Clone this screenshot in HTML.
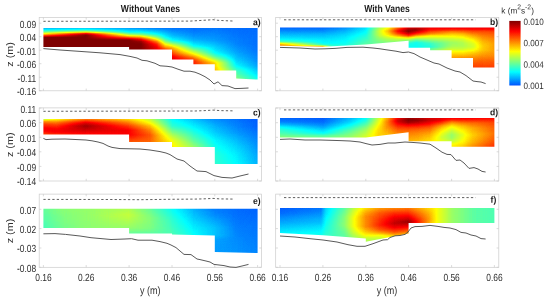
<!DOCTYPE html>
<html lang="en"><head><meta charset="utf-8"><title>Turbulent kinetic energy: without vanes vs with vanes</title>
<style>
html,body{margin:0;padding:0;background:#fff;}
body{width:550px;height:300px;overflow:hidden;}
svg{display:block;font-family:"Liberation Sans",Arial,Helvetica,sans-serif;}
</style></head><body>
<svg width="550" height="300" viewBox="0 0 550 300">
<defs>
<filter id="jet" filterUnits="userSpaceOnUse" x="0" y="0" width="550" height="300" color-interpolation-filters="sRGB"><feComponentTransfer><feFuncR type="table" tableValues="0 0 0 0 0.5 1 1 1 0.5"/><feFuncG type="table" tableValues="0 0 0.5 1 1 1 0.5 0 0"/><feFuncB type="table" tableValues="0.5 1 1 1 0.5 0 0 0 0"/></feComponentTransfer></filter>
<clipPath id="c1"><polygon points="43.4,28 257.6,28 257.6,79.6 236.2,78.6 236.2,70.5 214.8,70.5 214.8,64.3 193.4,64.3 193.4,59.6 172,59.6 172,49.4 129.1,49.4 129.1,47 43.4,47"/></clipPath>
<linearGradient id="v2" gradientUnits="userSpaceOnUse" x1="0" y1="28" x2="0" y2="80.6"><stop offset="0" stop-color="#4d4d4d"/><stop offset="0.038" stop-color="#606060"/><stop offset="0.076" stop-color="#7f7f7f"/><stop offset="0.106" stop-color="#9e9e9e"/><stop offset="0.133" stop-color="#bfbfbf"/><stop offset="0.152" stop-color="#e0e0e0"/><stop offset="0.181" stop-color="#ffffff"/><stop offset="0.361" stop-color="#ffffff"/></linearGradient>
<linearGradient id="v3" gradientUnits="userSpaceOnUse" x1="0" y1="28" x2="0" y2="80.6"><stop offset="0" stop-color="#515151"/><stop offset="0.027" stop-color="#606060"/><stop offset="0.057" stop-color="#7f7f7f"/><stop offset="0.076" stop-color="#9e9e9e"/><stop offset="0.095" stop-color="#c5c5c5"/><stop offset="0.106" stop-color="#e0e0e0"/><stop offset="0.133" stop-color="#ffffff"/><stop offset="0.361" stop-color="#ffffff"/></linearGradient>
<linearGradient id="v4" gradientUnits="userSpaceOnUse" x1="0" y1="28" x2="0" y2="80.6"><stop offset="0" stop-color="#474747"/><stop offset="0.076" stop-color="#606060"/><stop offset="0.114" stop-color="#7f7f7f"/><stop offset="0.144" stop-color="#9e9e9e"/><stop offset="0.171" stop-color="#bfbfbf"/><stop offset="0.198" stop-color="#e0e0e0"/><stop offset="0.228" stop-color="#ffffff"/><stop offset="0.407" stop-color="#ffffff"/></linearGradient>
<linearGradient id="v5" gradientUnits="userSpaceOnUse" x1="0" y1="28" x2="0" y2="80.6"><stop offset="0" stop-color="#434343"/><stop offset="0.076" stop-color="#606060"/><stop offset="0.124" stop-color="#7f7f7f"/><stop offset="0.152" stop-color="#9e9e9e"/><stop offset="0.183" stop-color="#bfbfbf"/><stop offset="0.215" stop-color="#e0e0e0"/><stop offset="0.259" stop-color="#f9f9f9"/><stop offset="0.304" stop-color="#ffffff"/><stop offset="0.407" stop-color="#ffffff"/></linearGradient>
<linearGradient id="v6" gradientUnits="userSpaceOnUse" x1="0" y1="28" x2="0" y2="80.6"><stop offset="0" stop-color="#3f3f3f"/><stop offset="0.114" stop-color="#606060"/><stop offset="0.171" stop-color="#7f7f7f"/><stop offset="0.215" stop-color="#9e9e9e"/><stop offset="0.255" stop-color="#bdbdbd"/><stop offset="0.304" stop-color="#d6d6d6"/><stop offset="0.361" stop-color="#e2e2e2"/><stop offset="0.407" stop-color="#e4e4e4"/></linearGradient>
<linearGradient id="v7" gradientUnits="userSpaceOnUse" x1="0" y1="28" x2="0" y2="80.6"><stop offset="0" stop-color="#3d3d3d"/><stop offset="0.095" stop-color="#515151"/><stop offset="0.171" stop-color="#606060"/><stop offset="0.247" stop-color="#7f7f7f"/><stop offset="0.304" stop-color="#9e9e9e"/><stop offset="0.369" stop-color="#bdbdbd"/><stop offset="0.407" stop-color="#d0d0d0"/></linearGradient>
<linearGradient id="v8" gradientUnits="userSpaceOnUse" x1="0" y1="28" x2="0" y2="80.6"><stop offset="0" stop-color="#3d3d3d"/><stop offset="0.095" stop-color="#494949"/><stop offset="0.152" stop-color="#515151"/><stop offset="0.228" stop-color="#606060"/><stop offset="0.285" stop-color="#7f7f7f"/><stop offset="0.335" stop-color="#9e9e9e"/><stop offset="0.38" stop-color="#b5b5b5"/><stop offset="0.418" stop-color="#bfbfbf"/><stop offset="0.479" stop-color="#cfcfcf"/><stop offset="0.536" stop-color="#e0e0e0"/><stop offset="0.601" stop-color="#e8e8e8"/></linearGradient>
<linearGradient id="v9" gradientUnits="userSpaceOnUse" x1="0" y1="28" x2="0" y2="80.6"><stop offset="0" stop-color="#3b3b3b"/><stop offset="0.152" stop-color="#454545"/><stop offset="0.228" stop-color="#4d4d4d"/><stop offset="0.304" stop-color="#5a5a5a"/><stop offset="0.342" stop-color="#626262"/><stop offset="0.399" stop-color="#7b7b7b"/><stop offset="0.466" stop-color="#969696"/><stop offset="0.508" stop-color="#a8a8a8"/><stop offset="0.551" stop-color="#bdbdbd"/><stop offset="0.601" stop-color="#d0d0d0"/><stop offset="0.646" stop-color="#d8d8d8"/><stop offset="0.69" stop-color="#d8d8d8"/></linearGradient>
<linearGradient id="v10" gradientUnits="userSpaceOnUse" x1="0" y1="28" x2="0" y2="80.6"><stop offset="0" stop-color="#3d3d3d"/><stop offset="0.228" stop-color="#474747"/><stop offset="0.342" stop-color="#535353"/><stop offset="0.418" stop-color="#5a5a5a"/><stop offset="0.475" stop-color="#626262"/><stop offset="0.532" stop-color="#727272"/><stop offset="0.58" stop-color="#858585"/><stop offset="0.62" stop-color="#989898"/><stop offset="0.665" stop-color="#aaaaaa"/><stop offset="0.722" stop-color="#aaaaaa"/><stop offset="0.76" stop-color="#aeaeae"/><stop offset="0.808" stop-color="#b1b1b1"/></linearGradient>
<linearGradient id="v11" gradientUnits="userSpaceOnUse" x1="0" y1="28" x2="0" y2="80.6"><stop offset="0" stop-color="#3b3b3b"/><stop offset="0.304" stop-color="#414141"/><stop offset="0.456" stop-color="#494949"/><stop offset="0.57" stop-color="#515151"/><stop offset="0.646" stop-color="#585858"/><stop offset="0.722" stop-color="#606060"/><stop offset="0.798" stop-color="#6e6e6e"/><stop offset="0.875" stop-color="#777777"/><stop offset="0.962" stop-color="#818181"/></linearGradient>
<linearGradient id="v12" gradientUnits="userSpaceOnUse" x1="0" y1="28" x2="0" y2="80.6"><stop offset="0" stop-color="#3b3b3b"/><stop offset="0.418" stop-color="#3d3d3d"/><stop offset="0.608" stop-color="#434343"/><stop offset="0.722" stop-color="#494949"/><stop offset="0.798" stop-color="#515151"/><stop offset="0.875" stop-color="#585858"/><stop offset="0.981" stop-color="#666666"/></linearGradient>
<linearGradient id="h13" gradientUnits="userSpaceOnUse" x1="43.4" y1="0" x2="86.2" y2="0"><stop offset="0" stop-color="#000"/><stop offset="1" stop-color="#fff"/></linearGradient>
<mask id="m14" maskUnits="userSpaceOnUse" x="42.4" y="27" width="45.8" height="54.6"><rect x="42.4" y="27" width="45.8" height="54.6" fill="url(#h13)"/></mask>
<linearGradient id="h15" gradientUnits="userSpaceOnUse" x1="86.2" y1="0" x2="129.1" y2="0"><stop offset="0" stop-color="#000"/><stop offset="1" stop-color="#fff"/></linearGradient>
<mask id="m16" maskUnits="userSpaceOnUse" x="85.2" y="27" width="45.9" height="54.6"><rect x="85.2" y="27" width="45.9" height="54.6" fill="url(#h15)"/></mask>
<linearGradient id="h17" gradientUnits="userSpaceOnUse" x1="129.1" y1="0" x2="141" y2="0"><stop offset="0" stop-color="#000"/><stop offset="1" stop-color="#fff"/></linearGradient>
<mask id="m18" maskUnits="userSpaceOnUse" x="128.1" y="27" width="14.9" height="54.6"><rect x="128.1" y="27" width="14.9" height="54.6" fill="url(#h17)"/></mask>
<linearGradient id="h19" gradientUnits="userSpaceOnUse" x1="141" y1="0" x2="157" y2="0"><stop offset="0" stop-color="#000"/><stop offset="1" stop-color="#fff"/></linearGradient>
<mask id="m20" maskUnits="userSpaceOnUse" x="140" y="27" width="19" height="54.6"><rect x="140" y="27" width="19" height="54.6" fill="url(#h19)"/></mask>
<linearGradient id="h21" gradientUnits="userSpaceOnUse" x1="157" y1="0" x2="165" y2="0"><stop offset="0" stop-color="#000"/><stop offset="1" stop-color="#fff"/></linearGradient>
<mask id="m22" maskUnits="userSpaceOnUse" x="156" y="27" width="11" height="54.6"><rect x="156" y="27" width="11" height="54.6" fill="url(#h21)"/></mask>
<linearGradient id="h23" gradientUnits="userSpaceOnUse" x1="165" y1="0" x2="172" y2="0"><stop offset="0" stop-color="#000"/><stop offset="1" stop-color="#fff"/></linearGradient>
<mask id="m24" maskUnits="userSpaceOnUse" x="164" y="27" width="10" height="54.6"><rect x="164" y="27" width="10" height="54.6" fill="url(#h23)"/></mask>
<linearGradient id="h25" gradientUnits="userSpaceOnUse" x1="172" y1="0" x2="193.4" y2="0"><stop offset="0" stop-color="#000"/><stop offset="1" stop-color="#fff"/></linearGradient>
<mask id="m26" maskUnits="userSpaceOnUse" x="171" y="27" width="24.4" height="54.6"><rect x="171" y="27" width="24.4" height="54.6" fill="url(#h25)"/></mask>
<linearGradient id="h27" gradientUnits="userSpaceOnUse" x1="193.4" y1="0" x2="214.8" y2="0"><stop offset="0" stop-color="#000"/><stop offset="1" stop-color="#fff"/></linearGradient>
<mask id="m28" maskUnits="userSpaceOnUse" x="192.4" y="27" width="24.4" height="54.6"><rect x="192.4" y="27" width="24.4" height="54.6" fill="url(#h27)"/></mask>
<linearGradient id="h29" gradientUnits="userSpaceOnUse" x1="214.8" y1="0" x2="236.2" y2="0"><stop offset="0" stop-color="#000"/><stop offset="1" stop-color="#fff"/></linearGradient>
<mask id="m30" maskUnits="userSpaceOnUse" x="213.8" y="27" width="24.4" height="54.6"><rect x="213.8" y="27" width="24.4" height="54.6" fill="url(#h29)"/></mask>
<linearGradient id="h31" gradientUnits="userSpaceOnUse" x1="236.2" y1="0" x2="257.6" y2="0"><stop offset="0" stop-color="#000"/><stop offset="1" stop-color="#fff"/></linearGradient>
<mask id="m32" maskUnits="userSpaceOnUse" x="235.2" y="27" width="24.4" height="54.6"><rect x="235.2" y="27" width="24.4" height="54.6" fill="url(#h31)"/></mask>
<clipPath id="c33"><polygon points="280,27.5 494.4,27.5 494.4,67.4 473,67.4 473,58 451.6,58 451.6,50.2 430.1,50.2 430.1,47.8 408.6,47.8 408.6,40.8 365.8,44.4 365.8,44.4 322.9,46.8 322.9,46.8 280,45.8"/></clipPath>
<linearGradient id="v34" gradientUnits="userSpaceOnUse" x1="0" y1="27.5" x2="0" y2="68.4"><stop offset="0" stop-color="#393939"/><stop offset="0.086" stop-color="#434343"/><stop offset="0.159" stop-color="#4d4d4d"/><stop offset="0.232" stop-color="#565656"/><stop offset="0.293" stop-color="#606060"/><stop offset="0.342" stop-color="#737373"/><stop offset="0.379" stop-color="#969696"/><stop offset="0.403" stop-color="#b1b1b1"/><stop offset="0.447" stop-color="#bfbfbf"/></linearGradient>
<linearGradient id="v35" gradientUnits="userSpaceOnUse" x1="0" y1="27.5" x2="0" y2="68.4"><stop offset="0" stop-color="#393939"/><stop offset="0.086" stop-color="#434343"/><stop offset="0.159" stop-color="#4d4d4d"/><stop offset="0.232" stop-color="#545454"/><stop offset="0.306" stop-color="#5c5c5c"/><stop offset="0.379" stop-color="#606060"/><stop offset="0.423" stop-color="#6c6c6c"/><stop offset="0.443" stop-color="#8b8b8b"/><stop offset="0.457" stop-color="#aaaaaa"/><stop offset="0.472" stop-color="#b9b9b9"/></linearGradient>
<linearGradient id="v36" gradientUnits="userSpaceOnUse" x1="0" y1="27.5" x2="0" y2="68.4"><stop offset="0" stop-color="#3d3d3d"/><stop offset="0.086" stop-color="#474747"/><stop offset="0.159" stop-color="#4f4f4f"/><stop offset="0.232" stop-color="#565656"/><stop offset="0.306" stop-color="#5c5c5c"/><stop offset="0.379" stop-color="#606060"/><stop offset="0.428" stop-color="#686868"/><stop offset="0.467" stop-color="#737373"/></linearGradient>
<linearGradient id="v37" gradientUnits="userSpaceOnUse" x1="0" y1="27.5" x2="0" y2="68.4"><stop offset="0" stop-color="#434343"/><stop offset="0.086" stop-color="#4d4d4d"/><stop offset="0.159" stop-color="#545454"/><stop offset="0.232" stop-color="#5a5a5a"/><stop offset="0.306" stop-color="#5e5e5e"/><stop offset="0.379" stop-color="#626262"/><stop offset="0.452" stop-color="#686868"/></linearGradient>
<linearGradient id="v38" gradientUnits="userSpaceOnUse" x1="0" y1="27.5" x2="0" y2="68.4"><stop offset="0" stop-color="#585858"/><stop offset="0.134" stop-color="#626262"/><stop offset="0.257" stop-color="#6c6c6c"/><stop offset="0.413" stop-color="#777777"/></linearGradient>
<linearGradient id="v39" gradientUnits="userSpaceOnUse" x1="0" y1="27.5" x2="0" y2="68.4"><stop offset="0" stop-color="#8b8b8b"/><stop offset="0.086" stop-color="#969696"/><stop offset="0.183" stop-color="#929292"/><stop offset="0.281" stop-color="#858585"/><stop offset="0.379" stop-color="#7d7d7d"/></linearGradient>
<linearGradient id="v40" gradientUnits="userSpaceOnUse" x1="0" y1="27.5" x2="0" y2="68.4"><stop offset="0" stop-color="#9e9e9e"/><stop offset="0.086" stop-color="#b1b1b1"/><stop offset="0.171" stop-color="#a6a6a6"/><stop offset="0.257" stop-color="#919191"/><stop offset="0.355" stop-color="#818181"/></linearGradient>
<linearGradient id="v41" gradientUnits="userSpaceOnUse" x1="0" y1="27.5" x2="0" y2="68.4"><stop offset="0" stop-color="#c5c5c5"/><stop offset="0.086" stop-color="#e0e0e0"/><stop offset="0.147" stop-color="#d0d0d0"/><stop offset="0.196" stop-color="#b9b9b9"/><stop offset="0.244" stop-color="#9e9e9e"/><stop offset="0.293" stop-color="#8f8f8f"/><stop offset="0.347" stop-color="#838383"/></linearGradient>
<linearGradient id="v42" gradientUnits="userSpaceOnUse" x1="0" y1="27.5" x2="0" y2="68.4"><stop offset="0" stop-color="#e8e8e8"/><stop offset="0.086" stop-color="#ffffff"/><stop offset="0.147" stop-color="#ececec"/><stop offset="0.196" stop-color="#d4d4d4"/><stop offset="0.225" stop-color="#bdbdbd"/><stop offset="0.257" stop-color="#9e9e9e"/><stop offset="0.306" stop-color="#878787"/><stop offset="0.355" stop-color="#727272"/><stop offset="0.403" stop-color="#666666"/><stop offset="0.496" stop-color="#626262"/></linearGradient>
<linearGradient id="v43" gradientUnits="userSpaceOnUse" x1="0" y1="27.5" x2="0" y2="68.4"><stop offset="0" stop-color="#ececec"/><stop offset="0.061" stop-color="#f9f9f9"/><stop offset="0.12" stop-color="#e6e6e6"/><stop offset="0.171" stop-color="#cdcdcd"/><stop offset="0.203" stop-color="#b5b5b5"/><stop offset="0.232" stop-color="#9e9e9e"/><stop offset="0.271" stop-color="#8b8b8b"/><stop offset="0.311" stop-color="#777777"/><stop offset="0.372" stop-color="#646464"/><stop offset="0.496" stop-color="#626262"/></linearGradient>
<linearGradient id="v44" gradientUnits="userSpaceOnUse" x1="0" y1="27.5" x2="0" y2="68.4"><stop offset="0" stop-color="#e4e4e4"/><stop offset="0.061" stop-color="#dcdcdc"/><stop offset="0.098" stop-color="#d0d0d0"/><stop offset="0.159" stop-color="#bdbdbd"/><stop offset="0.203" stop-color="#a2a2a2"/><stop offset="0.267" stop-color="#8f8f8f"/><stop offset="0.33" stop-color="#7d7d7d"/><stop offset="0.394" stop-color="#6e6e6e"/><stop offset="0.477" stop-color="#686868"/><stop offset="0.521" stop-color="#777777"/><stop offset="0.555" stop-color="#7d7d7d"/></linearGradient>
<linearGradient id="v45" gradientUnits="userSpaceOnUse" x1="0" y1="27.5" x2="0" y2="68.4"><stop offset="0" stop-color="#e4e4e4"/><stop offset="0.037" stop-color="#dcdcdc"/><stop offset="0.073" stop-color="#cfcfcf"/><stop offset="0.098" stop-color="#c1c1c1"/><stop offset="0.159" stop-color="#aeaeae"/><stop offset="0.225" stop-color="#9e9e9e"/><stop offset="0.289" stop-color="#919191"/><stop offset="0.372" stop-color="#878787"/><stop offset="0.452" stop-color="#898989"/><stop offset="0.521" stop-color="#929292"/><stop offset="0.599" stop-color="#a2a2a2"/><stop offset="0.689" stop-color="#b1b1b1"/><stop offset="0.746" stop-color="#b9b9b9"/></linearGradient>
<linearGradient id="v46" gradientUnits="userSpaceOnUse" x1="0" y1="27.5" x2="0" y2="68.4"><stop offset="0" stop-color="#e4e4e4"/><stop offset="0.042" stop-color="#dcdcdc"/><stop offset="0.073" stop-color="#cfcfcf"/><stop offset="0.098" stop-color="#c5c5c5"/><stop offset="0.159" stop-color="#b1b1b1"/><stop offset="0.225" stop-color="#a2a2a2"/><stop offset="0.293" stop-color="#949494"/><stop offset="0.379" stop-color="#8b8b8b"/><stop offset="0.452" stop-color="#8b8b8b"/><stop offset="0.526" stop-color="#929292"/><stop offset="0.599" stop-color="#a2a2a2"/><stop offset="0.689" stop-color="#b1b1b1"/><stop offset="0.746" stop-color="#bbbbbb"/></linearGradient>
<linearGradient id="v47" gradientUnits="userSpaceOnUse" x1="0" y1="27.5" x2="0" y2="68.4"><stop offset="0" stop-color="#e4e4e4"/><stop offset="0.049" stop-color="#dcdcdc"/><stop offset="0.086" stop-color="#cfcfcf"/><stop offset="0.183" stop-color="#b9b9b9"/><stop offset="0.257" stop-color="#aaaaaa"/><stop offset="0.33" stop-color="#9e9e9e"/><stop offset="0.403" stop-color="#969696"/><stop offset="0.477" stop-color="#949494"/><stop offset="0.55" stop-color="#9e9e9e"/><stop offset="0.623" stop-color="#acacac"/><stop offset="0.746" stop-color="#bdbdbd"/><stop offset="0.868" stop-color="#c9c9c9"/><stop offset="0.976" stop-color="#d0d0d0"/></linearGradient>
<linearGradient id="v48" gradientUnits="userSpaceOnUse" x1="0" y1="27.5" x2="0" y2="68.4"><stop offset="0" stop-color="#e4e4e4"/><stop offset="0.049" stop-color="#dcdcdc"/><stop offset="0.086" stop-color="#d0d0d0"/><stop offset="0.11" stop-color="#cbcbcb"/><stop offset="0.232" stop-color="#bdbdbd"/><stop offset="0.355" stop-color="#b1b1b1"/><stop offset="0.452" stop-color="#acacac"/><stop offset="0.55" stop-color="#aeaeae"/><stop offset="0.648" stop-color="#b7b7b7"/><stop offset="0.795" stop-color="#c5c5c5"/><stop offset="0.976" stop-color="#d0d0d0"/></linearGradient>
<linearGradient id="v49" gradientUnits="userSpaceOnUse" x1="0" y1="27.5" x2="0" y2="68.4"><stop offset="0" stop-color="#e4e4e4"/><stop offset="0.049" stop-color="#dcdcdc"/><stop offset="0.086" stop-color="#d2d2d2"/><stop offset="0.11" stop-color="#cdcdcd"/><stop offset="0.257" stop-color="#bfbfbf"/><stop offset="0.403" stop-color="#b7b7b7"/><stop offset="0.55" stop-color="#b7b7b7"/><stop offset="0.697" stop-color="#bdbdbd"/><stop offset="0.844" stop-color="#c9c9c9"/><stop offset="0.976" stop-color="#d0d0d0"/></linearGradient>
<linearGradient id="h50" gradientUnits="userSpaceOnUse" x1="280" y1="0" x2="322.9" y2="0"><stop offset="0" stop-color="#000"/><stop offset="1" stop-color="#fff"/></linearGradient>
<mask id="m51" maskUnits="userSpaceOnUse" x="279" y="26.5" width="45.9" height="42.9"><rect x="279" y="26.5" width="45.9" height="42.9" fill="url(#h50)"/></mask>
<linearGradient id="h52" gradientUnits="userSpaceOnUse" x1="322.9" y1="0" x2="331" y2="0"><stop offset="0" stop-color="#000"/><stop offset="1" stop-color="#fff"/></linearGradient>
<mask id="m53" maskUnits="userSpaceOnUse" x="321.9" y="26.5" width="11.1" height="42.9"><rect x="321.9" y="26.5" width="11.1" height="42.9" fill="url(#h52)"/></mask>
<linearGradient id="h54" gradientUnits="userSpaceOnUse" x1="331" y1="0" x2="345" y2="0"><stop offset="0" stop-color="#000"/><stop offset="1" stop-color="#fff"/></linearGradient>
<mask id="m55" maskUnits="userSpaceOnUse" x="330" y="26.5" width="17" height="42.9"><rect x="330" y="26.5" width="17" height="42.9" fill="url(#h54)"/></mask>
<linearGradient id="h56" gradientUnits="userSpaceOnUse" x1="345" y1="0" x2="365.8" y2="0"><stop offset="0" stop-color="#000"/><stop offset="1" stop-color="#fff"/></linearGradient>
<mask id="m57" maskUnits="userSpaceOnUse" x="344" y="26.5" width="23.8" height="42.9"><rect x="344" y="26.5" width="23.8" height="42.9" fill="url(#h56)"/></mask>
<linearGradient id="h58" gradientUnits="userSpaceOnUse" x1="365.8" y1="0" x2="380" y2="0"><stop offset="0" stop-color="#000"/><stop offset="1" stop-color="#fff"/></linearGradient>
<mask id="m59" maskUnits="userSpaceOnUse" x="364.8" y="26.5" width="17.2" height="42.9"><rect x="364.8" y="26.5" width="17.2" height="42.9" fill="url(#h58)"/></mask>
<linearGradient id="h60" gradientUnits="userSpaceOnUse" x1="380" y1="0" x2="388" y2="0"><stop offset="0" stop-color="#000"/><stop offset="1" stop-color="#fff"/></linearGradient>
<mask id="m61" maskUnits="userSpaceOnUse" x="379" y="26.5" width="11" height="42.9"><rect x="379" y="26.5" width="11" height="42.9" fill="url(#h60)"/></mask>
<linearGradient id="h62" gradientUnits="userSpaceOnUse" x1="388" y1="0" x2="398" y2="0"><stop offset="0" stop-color="#000"/><stop offset="1" stop-color="#fff"/></linearGradient>
<mask id="m63" maskUnits="userSpaceOnUse" x="387" y="26.5" width="13" height="42.9"><rect x="387" y="26.5" width="13" height="42.9" fill="url(#h62)"/></mask>
<linearGradient id="h64" gradientUnits="userSpaceOnUse" x1="398" y1="0" x2="408.6" y2="0"><stop offset="0" stop-color="#000"/><stop offset="1" stop-color="#fff"/></linearGradient>
<mask id="m65" maskUnits="userSpaceOnUse" x="397" y="26.5" width="13.6" height="42.9"><rect x="397" y="26.5" width="13.6" height="42.9" fill="url(#h64)"/></mask>
<linearGradient id="h66" gradientUnits="userSpaceOnUse" x1="408.6" y1="0" x2="416" y2="0"><stop offset="0" stop-color="#000"/><stop offset="1" stop-color="#fff"/></linearGradient>
<mask id="m67" maskUnits="userSpaceOnUse" x="407.6" y="26.5" width="10.4" height="42.9"><rect x="407.6" y="26.5" width="10.4" height="42.9" fill="url(#h66)"/></mask>
<linearGradient id="h68" gradientUnits="userSpaceOnUse" x1="416" y1="0" x2="430.1" y2="0"><stop offset="0" stop-color="#000"/><stop offset="1" stop-color="#fff"/></linearGradient>
<mask id="m69" maskUnits="userSpaceOnUse" x="415" y="26.5" width="17.1" height="42.9"><rect x="415" y="26.5" width="17.1" height="42.9" fill="url(#h68)"/></mask>
<linearGradient id="h70" gradientUnits="userSpaceOnUse" x1="430.1" y1="0" x2="451.6" y2="0"><stop offset="0" stop-color="#000"/><stop offset="1" stop-color="#fff"/></linearGradient>
<mask id="m71" maskUnits="userSpaceOnUse" x="429.1" y="26.5" width="24.5" height="42.9"><rect x="429.1" y="26.5" width="24.5" height="42.9" fill="url(#h70)"/></mask>
<linearGradient id="h72" gradientUnits="userSpaceOnUse" x1="451.6" y1="0" x2="462" y2="0"><stop offset="0" stop-color="#000"/><stop offset="1" stop-color="#fff"/></linearGradient>
<mask id="m73" maskUnits="userSpaceOnUse" x="450.6" y="26.5" width="13.4" height="42.9"><rect x="450.6" y="26.5" width="13.4" height="42.9" fill="url(#h72)"/></mask>
<linearGradient id="h74" gradientUnits="userSpaceOnUse" x1="462" y1="0" x2="473" y2="0"><stop offset="0" stop-color="#000"/><stop offset="1" stop-color="#fff"/></linearGradient>
<mask id="m75" maskUnits="userSpaceOnUse" x="461" y="26.5" width="14" height="42.9"><rect x="461" y="26.5" width="14" height="42.9" fill="url(#h74)"/></mask>
<linearGradient id="h76" gradientUnits="userSpaceOnUse" x1="473" y1="0" x2="483" y2="0"><stop offset="0" stop-color="#000"/><stop offset="1" stop-color="#fff"/></linearGradient>
<mask id="m77" maskUnits="userSpaceOnUse" x="472" y="26.5" width="13" height="42.9"><rect x="472" y="26.5" width="13" height="42.9" fill="url(#h76)"/></mask>
<linearGradient id="h78" gradientUnits="userSpaceOnUse" x1="483" y1="0" x2="494.4" y2="0"><stop offset="0" stop-color="#000"/><stop offset="1" stop-color="#fff"/></linearGradient>
<mask id="m79" maskUnits="userSpaceOnUse" x="482" y="26.5" width="14.4" height="42.9"><rect x="482" y="26.5" width="14.4" height="42.9" fill="url(#h78)"/></mask>
<clipPath id="c80"><polygon points="43.4,119 257.6,119 257.6,164 214.8,164 214.8,147 172,147 172,142 129.1,142 129.1,134.6 43.4,134.6"/></clipPath>
<linearGradient id="v81" gradientUnits="userSpaceOnUse" x1="0" y1="119" x2="0" y2="165"><stop offset="0" stop-color="#878787"/><stop offset="0.022" stop-color="#a2a2a2"/><stop offset="0.054" stop-color="#bbbbbb"/><stop offset="0.109" stop-color="#d0d0d0"/><stop offset="0.196" stop-color="#e0e0e0"/><stop offset="0.261" stop-color="#e0e0e0"/><stop offset="0.339" stop-color="#cdcdcd"/></linearGradient>
<linearGradient id="v82" gradientUnits="userSpaceOnUse" x1="0" y1="119" x2="0" y2="165"><stop offset="0" stop-color="#9e9e9e"/><stop offset="0.033" stop-color="#aeaeae"/><stop offset="0.065" stop-color="#bdbdbd"/><stop offset="0.13" stop-color="#d0d0d0"/><stop offset="0.217" stop-color="#e0e0e0"/><stop offset="0.283" stop-color="#e0e0e0"/><stop offset="0.339" stop-color="#d4d4d4"/></linearGradient>
<linearGradient id="v83" gradientUnits="userSpaceOnUse" x1="0" y1="119" x2="0" y2="165"><stop offset="0" stop-color="#c1c1c1"/><stop offset="0.043" stop-color="#d4d4d4"/><stop offset="0.087" stop-color="#e8e8e8"/><stop offset="0.152" stop-color="#f7f7f7"/><stop offset="0.217" stop-color="#efefef"/><stop offset="0.283" stop-color="#e4e4e4"/><stop offset="0.339" stop-color="#dcdcdc"/></linearGradient>
<linearGradient id="v84" gradientUnits="userSpaceOnUse" x1="0" y1="119" x2="0" y2="165"><stop offset="0" stop-color="#a8a8a8"/><stop offset="0.065" stop-color="#bbbbbb"/><stop offset="0.152" stop-color="#d0d0d0"/><stop offset="0.239" stop-color="#e0e0e0"/><stop offset="0.348" stop-color="#e0e0e0"/><stop offset="0.5" stop-color="#c9c9c9"/></linearGradient>
<linearGradient id="v85" gradientUnits="userSpaceOnUse" x1="0" y1="119" x2="0" y2="165"><stop offset="0" stop-color="#8f8f8f"/><stop offset="0.087" stop-color="#9e9e9e"/><stop offset="0.152" stop-color="#aeaeae"/><stop offset="0.239" stop-color="#bdbdbd"/><stop offset="0.348" stop-color="#c9c9c9"/><stop offset="0.5" stop-color="#c5c5c5"/></linearGradient>
<linearGradient id="v86" gradientUnits="userSpaceOnUse" x1="0" y1="119" x2="0" y2="165"><stop offset="0" stop-color="#606060"/><stop offset="0.152" stop-color="#6c6c6c"/><stop offset="0.261" stop-color="#7d7d7d"/><stop offset="0.37" stop-color="#8f8f8f"/><stop offset="0.478" stop-color="#9e9e9e"/><stop offset="0.609" stop-color="#a4a4a4"/></linearGradient>
<linearGradient id="v87" gradientUnits="userSpaceOnUse" x1="0" y1="119" x2="0" y2="165"><stop offset="0" stop-color="#515151"/><stop offset="0.196" stop-color="#606060"/><stop offset="0.326" stop-color="#6c6c6c"/><stop offset="0.457" stop-color="#777777"/><stop offset="0.609" stop-color="#878787"/></linearGradient>
<linearGradient id="v88" gradientUnits="userSpaceOnUse" x1="0" y1="119" x2="0" y2="165"><stop offset="0" stop-color="#434343"/><stop offset="0.152" stop-color="#4d4d4d"/><stop offset="0.304" stop-color="#545454"/><stop offset="0.457" stop-color="#5e5e5e"/><stop offset="0.609" stop-color="#646464"/><stop offset="0.783" stop-color="#6a6a6a"/><stop offset="0.978" stop-color="#6c6c6c"/></linearGradient>
<linearGradient id="v89" gradientUnits="userSpaceOnUse" x1="0" y1="119" x2="0" y2="165"><stop offset="0" stop-color="#3d3d3d"/><stop offset="0.152" stop-color="#414141"/><stop offset="0.304" stop-color="#474747"/><stop offset="0.457" stop-color="#4f4f4f"/><stop offset="0.609" stop-color="#565656"/><stop offset="0.783" stop-color="#5c5c5c"/><stop offset="0.978" stop-color="#606060"/></linearGradient>
<linearGradient id="v90" gradientUnits="userSpaceOnUse" x1="0" y1="119" x2="0" y2="165"><stop offset="0" stop-color="#373737"/><stop offset="0.152" stop-color="#393939"/><stop offset="0.304" stop-color="#3d3d3d"/><stop offset="0.457" stop-color="#414141"/><stop offset="0.609" stop-color="#454545"/><stop offset="0.783" stop-color="#494949"/><stop offset="0.978" stop-color="#4d4d4d"/></linearGradient>
<linearGradient id="h91" gradientUnits="userSpaceOnUse" x1="43.4" y1="0" x2="56" y2="0"><stop offset="0" stop-color="#000"/><stop offset="1" stop-color="#fff"/></linearGradient>
<mask id="m92" maskUnits="userSpaceOnUse" x="42.4" y="118" width="15.6" height="48"><rect x="42.4" y="118" width="15.6" height="48" fill="url(#h91)"/></mask>
<linearGradient id="h93" gradientUnits="userSpaceOnUse" x1="56" y1="0" x2="86.2" y2="0"><stop offset="0" stop-color="#000"/><stop offset="1" stop-color="#fff"/></linearGradient>
<mask id="m94" maskUnits="userSpaceOnUse" x="55" y="118" width="33.2" height="48"><rect x="55" y="118" width="33.2" height="48" fill="url(#h93)"/></mask>
<linearGradient id="h95" gradientUnits="userSpaceOnUse" x1="86.2" y1="0" x2="129.1" y2="0"><stop offset="0" stop-color="#000"/><stop offset="1" stop-color="#fff"/></linearGradient>
<mask id="m96" maskUnits="userSpaceOnUse" x="85.2" y="118" width="45.9" height="48"><rect x="85.2" y="118" width="45.9" height="48" fill="url(#h95)"/></mask>
<linearGradient id="h97" gradientUnits="userSpaceOnUse" x1="129.1" y1="0" x2="150.5" y2="0"><stop offset="0" stop-color="#000"/><stop offset="1" stop-color="#fff"/></linearGradient>
<mask id="m98" maskUnits="userSpaceOnUse" x="128.1" y="118" width="24.4" height="48"><rect x="128.1" y="118" width="24.4" height="48" fill="url(#h97)"/></mask>
<linearGradient id="h99" gradientUnits="userSpaceOnUse" x1="150.5" y1="0" x2="172" y2="0"><stop offset="0" stop-color="#000"/><stop offset="1" stop-color="#fff"/></linearGradient>
<mask id="m100" maskUnits="userSpaceOnUse" x="149.5" y="118" width="24.5" height="48"><rect x="149.5" y="118" width="24.5" height="48" fill="url(#h99)"/></mask>
<linearGradient id="h101" gradientUnits="userSpaceOnUse" x1="172" y1="0" x2="193.4" y2="0"><stop offset="0" stop-color="#000"/><stop offset="1" stop-color="#fff"/></linearGradient>
<mask id="m102" maskUnits="userSpaceOnUse" x="171" y="118" width="24.4" height="48"><rect x="171" y="118" width="24.4" height="48" fill="url(#h101)"/></mask>
<linearGradient id="h103" gradientUnits="userSpaceOnUse" x1="193.4" y1="0" x2="214.8" y2="0"><stop offset="0" stop-color="#000"/><stop offset="1" stop-color="#fff"/></linearGradient>
<mask id="m104" maskUnits="userSpaceOnUse" x="192.4" y="118" width="24.4" height="48"><rect x="192.4" y="118" width="24.4" height="48" fill="url(#h103)"/></mask>
<linearGradient id="h105" gradientUnits="userSpaceOnUse" x1="214.8" y1="0" x2="236.2" y2="0"><stop offset="0" stop-color="#000"/><stop offset="1" stop-color="#fff"/></linearGradient>
<mask id="m106" maskUnits="userSpaceOnUse" x="213.8" y="118" width="24.4" height="48"><rect x="213.8" y="118" width="24.4" height="48" fill="url(#h105)"/></mask>
<linearGradient id="h107" gradientUnits="userSpaceOnUse" x1="236.2" y1="0" x2="257.6" y2="0"><stop offset="0" stop-color="#000"/><stop offset="1" stop-color="#fff"/></linearGradient>
<mask id="m108" maskUnits="userSpaceOnUse" x="235.2" y="118" width="24.4" height="48"><rect x="235.2" y="118" width="24.4" height="48" fill="url(#h107)"/></mask>
<clipPath id="c109"><polygon points="280,118 494.4,118 494.4,146.8 451.6,146.8 451.6,141.2 408.6,141.2 408.6,132.2 365.8,137.4 365.8,137.4 280,137.4"/></clipPath>
<linearGradient id="v110" gradientUnits="userSpaceOnUse" x1="0" y1="118" x2="0" y2="147.8"><stop offset="0" stop-color="#393939"/><stop offset="0.134" stop-color="#414141"/><stop offset="0.235" stop-color="#515151"/><stop offset="0.302" stop-color="#606060"/><stop offset="0.403" stop-color="#6c6c6c"/><stop offset="0.503" stop-color="#737373"/><stop offset="0.604" stop-color="#7d7d7d"/><stop offset="0.651" stop-color="#838383"/></linearGradient>
<linearGradient id="v111" gradientUnits="userSpaceOnUse" x1="0" y1="118" x2="0" y2="147.8"><stop offset="0" stop-color="#373737"/><stop offset="0.134" stop-color="#3b3b3b"/><stop offset="0.235" stop-color="#434343"/><stop offset="0.336" stop-color="#4d4d4d"/><stop offset="0.419" stop-color="#585858"/><stop offset="0.503" stop-color="#606060"/><stop offset="0.587" stop-color="#737373"/><stop offset="0.651" stop-color="#7b7b7b"/></linearGradient>
<linearGradient id="v112" gradientUnits="userSpaceOnUse" x1="0" y1="118" x2="0" y2="147.8"><stop offset="0" stop-color="#4d4d4d"/><stop offset="0.134" stop-color="#565656"/><stop offset="0.235" stop-color="#606060"/><stop offset="0.336" stop-color="#6c6c6c"/><stop offset="0.436" stop-color="#777777"/><stop offset="0.537" stop-color="#7f7f7f"/><stop offset="0.651" stop-color="#878787"/></linearGradient>
<linearGradient id="v113" gradientUnits="userSpaceOnUse" x1="0" y1="118" x2="0" y2="147.8"><stop offset="0" stop-color="#606060"/><stop offset="0.134" stop-color="#6c6c6c"/><stop offset="0.235" stop-color="#777777"/><stop offset="0.336" stop-color="#838383"/><stop offset="0.436" stop-color="#8b8b8b"/><stop offset="0.537" stop-color="#919191"/><stop offset="0.651" stop-color="#969696"/></linearGradient>
<linearGradient id="v114" gradientUnits="userSpaceOnUse" x1="0" y1="118" x2="0" y2="147.8"><stop offset="0" stop-color="#929292"/><stop offset="0.134" stop-color="#9a9a9a"/><stop offset="0.268" stop-color="#a2a2a2"/><stop offset="0.403" stop-color="#a8a8a8"/><stop offset="0.537" stop-color="#aaaaaa"/><stop offset="0.628" stop-color="#aaaaaa"/></linearGradient>
<linearGradient id="v115" gradientUnits="userSpaceOnUse" x1="0" y1="118" x2="0" y2="147.8"><stop offset="0" stop-color="#b5b5b5"/><stop offset="0.134" stop-color="#bfbfbf"/><stop offset="0.268" stop-color="#bdbdbd"/><stop offset="0.403" stop-color="#b7b7b7"/><stop offset="0.591" stop-color="#aeaeae"/></linearGradient>
<linearGradient id="v116" gradientUnits="userSpaceOnUse" x1="0" y1="118" x2="0" y2="147.8"><stop offset="0" stop-color="#e2e2e2"/><stop offset="0.101" stop-color="#ececec"/><stop offset="0.201" stop-color="#e0e0e0"/><stop offset="0.302" stop-color="#d2d2d2"/><stop offset="0.403" stop-color="#c7c7c7"/><stop offset="0.537" stop-color="#bdbdbd"/></linearGradient>
<linearGradient id="v117" gradientUnits="userSpaceOnUse" x1="0" y1="118" x2="0" y2="147.8"><stop offset="0" stop-color="#f7f7f7"/><stop offset="0.067" stop-color="#ffffff"/><stop offset="0.151" stop-color="#f7f7f7"/><stop offset="0.235" stop-color="#e2e2e2"/><stop offset="0.336" stop-color="#d0d0d0"/><stop offset="0.436" stop-color="#c5c5c5"/><stop offset="0.57" stop-color="#bdbdbd"/><stop offset="0.785" stop-color="#b1b1b1"/></linearGradient>
<linearGradient id="v118" gradientUnits="userSpaceOnUse" x1="0" y1="118" x2="0" y2="147.8"><stop offset="0" stop-color="#f1f1f1"/><stop offset="0.084" stop-color="#f9f9f9"/><stop offset="0.168" stop-color="#ececec"/><stop offset="0.268" stop-color="#d8d8d8"/><stop offset="0.369" stop-color="#c9c9c9"/><stop offset="0.503" stop-color="#bdbdbd"/><stop offset="0.785" stop-color="#aeaeae"/></linearGradient>
<linearGradient id="v119" gradientUnits="userSpaceOnUse" x1="0" y1="118" x2="0" y2="147.8"><stop offset="0" stop-color="#e8e8e8"/><stop offset="0.087" stop-color="#ececec"/><stop offset="0.201" stop-color="#dcdcdc"/><stop offset="0.319" stop-color="#c9c9c9"/><stop offset="0.436" stop-color="#bdbdbd"/><stop offset="0.554" stop-color="#b3b3b3"/><stop offset="0.671" stop-color="#acacac"/><stop offset="0.785" stop-color="#a6a6a6"/></linearGradient>
<linearGradient id="v120" gradientUnits="userSpaceOnUse" x1="0" y1="118" x2="0" y2="147.8"><stop offset="0" stop-color="#e6e6e6"/><stop offset="0.084" stop-color="#e2e2e2"/><stop offset="0.168" stop-color="#d0d0d0"/><stop offset="0.268" stop-color="#b9b9b9"/><stop offset="0.369" stop-color="#aaaaaa"/><stop offset="0.503" stop-color="#9e9e9e"/><stop offset="0.638" stop-color="#969696"/><stop offset="0.785" stop-color="#9a9a9a"/></linearGradient>
<linearGradient id="v121" gradientUnits="userSpaceOnUse" x1="0" y1="118" x2="0" y2="147.8"><stop offset="0" stop-color="#e2e2e2"/><stop offset="0.067" stop-color="#d6d6d6"/><stop offset="0.134" stop-color="#c1c1c1"/><stop offset="0.218" stop-color="#aeaeae"/><stop offset="0.302" stop-color="#9e9e9e"/><stop offset="0.436" stop-color="#919191"/><stop offset="0.57" stop-color="#858585"/><stop offset="0.671" stop-color="#878787"/><stop offset="0.785" stop-color="#919191"/><stop offset="0.872" stop-color="#9e9e9e"/><stop offset="0.973" stop-color="#a4a4a4"/></linearGradient>
<linearGradient id="v122" gradientUnits="userSpaceOnUse" x1="0" y1="118" x2="0" y2="147.8"><stop offset="0" stop-color="#e2e2e2"/><stop offset="0.067" stop-color="#d8d8d8"/><stop offset="0.168" stop-color="#c1c1c1"/><stop offset="0.268" stop-color="#b0b0b0"/><stop offset="0.403" stop-color="#a2a2a2"/><stop offset="0.57" stop-color="#989898"/><stop offset="0.772" stop-color="#9e9e9e"/><stop offset="0.973" stop-color="#acacac"/></linearGradient>
<linearGradient id="v123" gradientUnits="userSpaceOnUse" x1="0" y1="118" x2="0" y2="147.8"><stop offset="0" stop-color="#e2e2e2"/><stop offset="0.067" stop-color="#d8d8d8"/><stop offset="0.168" stop-color="#c5c5c5"/><stop offset="0.336" stop-color="#b5b5b5"/><stop offset="0.57" stop-color="#acacac"/><stop offset="0.805" stop-color="#b3b3b3"/><stop offset="0.973" stop-color="#bdbdbd"/></linearGradient>
<linearGradient id="v124" gradientUnits="userSpaceOnUse" x1="0" y1="118" x2="0" y2="147.8"><stop offset="0" stop-color="#dedede"/><stop offset="0.067" stop-color="#d6d6d6"/><stop offset="0.168" stop-color="#cdcdcd"/><stop offset="0.336" stop-color="#c7c7c7"/><stop offset="0.537" stop-color="#c3c3c3"/><stop offset="0.738" stop-color="#c9c9c9"/><stop offset="0.973" stop-color="#d4d4d4"/></linearGradient>
<linearGradient id="h125" gradientUnits="userSpaceOnUse" x1="280" y1="0" x2="322.9" y2="0"><stop offset="0" stop-color="#000"/><stop offset="1" stop-color="#fff"/></linearGradient>
<mask id="m126" maskUnits="userSpaceOnUse" x="279" y="117" width="45.9" height="31.8"><rect x="279" y="117" width="45.9" height="31.8" fill="url(#h125)"/></mask>
<linearGradient id="h127" gradientUnits="userSpaceOnUse" x1="322.9" y1="0" x2="350" y2="0"><stop offset="0" stop-color="#000"/><stop offset="1" stop-color="#fff"/></linearGradient>
<mask id="m128" maskUnits="userSpaceOnUse" x="321.9" y="117" width="30.1" height="31.8"><rect x="321.9" y="117" width="30.1" height="31.8" fill="url(#h127)"/></mask>
<linearGradient id="h129" gradientUnits="userSpaceOnUse" x1="350" y1="0" x2="365.8" y2="0"><stop offset="0" stop-color="#000"/><stop offset="1" stop-color="#fff"/></linearGradient>
<mask id="m130" maskUnits="userSpaceOnUse" x="349" y="117" width="18.8" height="31.8"><rect x="349" y="117" width="18.8" height="31.8" fill="url(#h129)"/></mask>
<linearGradient id="h131" gradientUnits="userSpaceOnUse" x1="365.8" y1="0" x2="378.6" y2="0"><stop offset="0" stop-color="#000"/><stop offset="1" stop-color="#fff"/></linearGradient>
<mask id="m132" maskUnits="userSpaceOnUse" x="364.8" y="117" width="15.8" height="31.8"><rect x="364.8" y="117" width="15.8" height="31.8" fill="url(#h131)"/></mask>
<linearGradient id="h133" gradientUnits="userSpaceOnUse" x1="378.6" y1="0" x2="387.2" y2="0"><stop offset="0" stop-color="#000"/><stop offset="1" stop-color="#fff"/></linearGradient>
<mask id="m134" maskUnits="userSpaceOnUse" x="377.6" y="117" width="11.6" height="31.8"><rect x="377.6" y="117" width="11.6" height="31.8" fill="url(#h133)"/></mask>
<linearGradient id="h135" gradientUnits="userSpaceOnUse" x1="387.2" y1="0" x2="398" y2="0"><stop offset="0" stop-color="#000"/><stop offset="1" stop-color="#fff"/></linearGradient>
<mask id="m136" maskUnits="userSpaceOnUse" x="386.2" y="117" width="13.8" height="31.8"><rect x="386.2" y="117" width="13.8" height="31.8" fill="url(#h135)"/></mask>
<linearGradient id="h137" gradientUnits="userSpaceOnUse" x1="398" y1="0" x2="408.6" y2="0"><stop offset="0" stop-color="#000"/><stop offset="1" stop-color="#fff"/></linearGradient>
<mask id="m138" maskUnits="userSpaceOnUse" x="397" y="117" width="13.6" height="31.8"><rect x="397" y="117" width="13.6" height="31.8" fill="url(#h137)"/></mask>
<linearGradient id="h139" gradientUnits="userSpaceOnUse" x1="408.6" y1="0" x2="419" y2="0"><stop offset="0" stop-color="#000"/><stop offset="1" stop-color="#fff"/></linearGradient>
<mask id="m140" maskUnits="userSpaceOnUse" x="407.6" y="117" width="13.4" height="31.8"><rect x="407.6" y="117" width="13.4" height="31.8" fill="url(#h139)"/></mask>
<linearGradient id="h141" gradientUnits="userSpaceOnUse" x1="419" y1="0" x2="430.1" y2="0"><stop offset="0" stop-color="#000"/><stop offset="1" stop-color="#fff"/></linearGradient>
<mask id="m142" maskUnits="userSpaceOnUse" x="418" y="117" width="14.1" height="31.8"><rect x="418" y="117" width="14.1" height="31.8" fill="url(#h141)"/></mask>
<linearGradient id="h143" gradientUnits="userSpaceOnUse" x1="430.1" y1="0" x2="441" y2="0"><stop offset="0" stop-color="#000"/><stop offset="1" stop-color="#fff"/></linearGradient>
<mask id="m144" maskUnits="userSpaceOnUse" x="429.1" y="117" width="13.9" height="31.8"><rect x="429.1" y="117" width="13.9" height="31.8" fill="url(#h143)"/></mask>
<linearGradient id="h145" gradientUnits="userSpaceOnUse" x1="441" y1="0" x2="451.6" y2="0"><stop offset="0" stop-color="#000"/><stop offset="1" stop-color="#fff"/></linearGradient>
<mask id="m146" maskUnits="userSpaceOnUse" x="440" y="117" width="13.6" height="31.8"><rect x="440" y="117" width="13.6" height="31.8" fill="url(#h145)"/></mask>
<linearGradient id="h147" gradientUnits="userSpaceOnUse" x1="451.6" y1="0" x2="462" y2="0"><stop offset="0" stop-color="#000"/><stop offset="1" stop-color="#fff"/></linearGradient>
<mask id="m148" maskUnits="userSpaceOnUse" x="450.6" y="117" width="13.4" height="31.8"><rect x="450.6" y="117" width="13.4" height="31.8" fill="url(#h147)"/></mask>
<linearGradient id="h149" gradientUnits="userSpaceOnUse" x1="462" y1="0" x2="473" y2="0"><stop offset="0" stop-color="#000"/><stop offset="1" stop-color="#fff"/></linearGradient>
<mask id="m150" maskUnits="userSpaceOnUse" x="461" y="117" width="14" height="31.8"><rect x="461" y="117" width="14" height="31.8" fill="url(#h149)"/></mask>
<linearGradient id="h151" gradientUnits="userSpaceOnUse" x1="473" y1="0" x2="494.4" y2="0"><stop offset="0" stop-color="#000"/><stop offset="1" stop-color="#fff"/></linearGradient>
<mask id="m152" maskUnits="userSpaceOnUse" x="472" y="117" width="24.4" height="31.8"><rect x="472" y="117" width="24.4" height="31.8" fill="url(#h151)"/></mask>
<clipPath id="c153"><polygon points="43.4,208.8 257.6,208.8 257.6,253 214.8,252 214.8,235.6 172,234.4 172,233.6 129.1,233.6 129.1,228 43.4,228"/></clipPath>
<linearGradient id="v154" gradientUnits="userSpaceOnUse" x1="0" y1="208.8" x2="0" y2="254"><stop offset="0" stop-color="#797979"/><stop offset="0.425" stop-color="#727272"/></linearGradient>
<linearGradient id="v155" gradientUnits="userSpaceOnUse" x1="0" y1="208.8" x2="0" y2="254"><stop offset="0" stop-color="#838383"/><stop offset="0.425" stop-color="#7d7d7d"/></linearGradient>
<linearGradient id="v156" gradientUnits="userSpaceOnUse" x1="0" y1="208.8" x2="0" y2="254"><stop offset="0" stop-color="#858585"/><stop offset="0.425" stop-color="#838383"/></linearGradient>
<linearGradient id="v157" gradientUnits="userSpaceOnUse" x1="0" y1="208.8" x2="0" y2="254"><stop offset="0" stop-color="#898989"/><stop offset="0.159" stop-color="#8b8b8b"/><stop offset="0.425" stop-color="#858585"/></linearGradient>
<linearGradient id="v158" gradientUnits="userSpaceOnUse" x1="0" y1="208.8" x2="0" y2="254"><stop offset="0" stop-color="#8b8b8b"/><stop offset="0.137" stop-color="#919191"/><stop offset="0.292" stop-color="#8b8b8b"/><stop offset="0.425" stop-color="#858585"/><stop offset="0.549" stop-color="#797979"/></linearGradient>
<linearGradient id="v159" gradientUnits="userSpaceOnUse" x1="0" y1="208.8" x2="0" y2="254"><stop offset="0" stop-color="#797979"/><stop offset="0.204" stop-color="#818181"/><stop offset="0.425" stop-color="#7f7f7f"/><stop offset="0.549" stop-color="#777777"/></linearGradient>
<linearGradient id="v160" gradientUnits="userSpaceOnUse" x1="0" y1="208.8" x2="0" y2="254"><stop offset="0.004" stop-color="#626262"/><stop offset="0.248" stop-color="#6c6c6c"/><stop offset="0.558" stop-color="#737373"/></linearGradient>
<linearGradient id="v161" gradientUnits="userSpaceOnUse" x1="0" y1="208.8" x2="0" y2="254"><stop offset="0.004" stop-color="#4d4d4d"/><stop offset="0.204" stop-color="#545454"/><stop offset="0.403" stop-color="#5c5c5c"/><stop offset="0.58" stop-color="#626262"/></linearGradient>
<linearGradient id="v162" gradientUnits="userSpaceOnUse" x1="0" y1="208.8" x2="0" y2="254"><stop offset="0.004" stop-color="#3f3f3f"/><stop offset="0.137" stop-color="#434343"/><stop offset="0.292" stop-color="#4b4b4b"/><stop offset="0.425" stop-color="#515151"/><stop offset="0.58" stop-color="#515151"/><stop offset="0.69" stop-color="#494949"/><stop offset="0.956" stop-color="#474747"/></linearGradient>
<linearGradient id="v163" gradientUnits="userSpaceOnUse" x1="0" y1="208.8" x2="0" y2="254"><stop offset="0.004" stop-color="#3b3b3b"/><stop offset="0.358" stop-color="#3f3f3f"/><stop offset="0.69" stop-color="#434343"/><stop offset="0.967" stop-color="#454545"/></linearGradient>
<linearGradient id="v164" gradientUnits="userSpaceOnUse" x1="0" y1="208.8" x2="0" y2="254"><stop offset="0.004" stop-color="#393939"/><stop offset="0.358" stop-color="#3d3d3d"/><stop offset="0.978" stop-color="#414141"/></linearGradient>
<linearGradient id="h165" gradientUnits="userSpaceOnUse" x1="43.4" y1="0" x2="65" y2="0"><stop offset="0" stop-color="#000"/><stop offset="1" stop-color="#fff"/></linearGradient>
<mask id="m166" maskUnits="userSpaceOnUse" x="42.4" y="207.8" width="24.6" height="47.2"><rect x="42.4" y="207.8" width="24.6" height="47.2" fill="url(#h165)"/></mask>
<linearGradient id="h167" gradientUnits="userSpaceOnUse" x1="65" y1="0" x2="86.2" y2="0"><stop offset="0" stop-color="#000"/><stop offset="1" stop-color="#fff"/></linearGradient>
<mask id="m168" maskUnits="userSpaceOnUse" x="64" y="207.8" width="24.2" height="47.2"><rect x="64" y="207.8" width="24.2" height="47.2" fill="url(#h167)"/></mask>
<linearGradient id="h169" gradientUnits="userSpaceOnUse" x1="86.2" y1="0" x2="108" y2="0"><stop offset="0" stop-color="#000"/><stop offset="1" stop-color="#fff"/></linearGradient>
<mask id="m170" maskUnits="userSpaceOnUse" x="85.2" y="207.8" width="24.8" height="47.2"><rect x="85.2" y="207.8" width="24.8" height="47.2" fill="url(#h169)"/></mask>
<linearGradient id="h171" gradientUnits="userSpaceOnUse" x1="108" y1="0" x2="129.1" y2="0"><stop offset="0" stop-color="#000"/><stop offset="1" stop-color="#fff"/></linearGradient>
<mask id="m172" maskUnits="userSpaceOnUse" x="107" y="207.8" width="24.1" height="47.2"><rect x="107" y="207.8" width="24.1" height="47.2" fill="url(#h171)"/></mask>
<linearGradient id="h173" gradientUnits="userSpaceOnUse" x1="129.1" y1="0" x2="150.5" y2="0"><stop offset="0" stop-color="#000"/><stop offset="1" stop-color="#fff"/></linearGradient>
<mask id="m174" maskUnits="userSpaceOnUse" x="128.1" y="207.8" width="24.4" height="47.2"><rect x="128.1" y="207.8" width="24.4" height="47.2" fill="url(#h173)"/></mask>
<linearGradient id="h175" gradientUnits="userSpaceOnUse" x1="150.5" y1="0" x2="172" y2="0"><stop offset="0" stop-color="#000"/><stop offset="1" stop-color="#fff"/></linearGradient>
<mask id="m176" maskUnits="userSpaceOnUse" x="149.5" y="207.8" width="24.5" height="47.2"><rect x="149.5" y="207.8" width="24.5" height="47.2" fill="url(#h175)"/></mask>
<linearGradient id="h177" gradientUnits="userSpaceOnUse" x1="172" y1="0" x2="193.4" y2="0"><stop offset="0" stop-color="#000"/><stop offset="1" stop-color="#fff"/></linearGradient>
<mask id="m178" maskUnits="userSpaceOnUse" x="171" y="207.8" width="24.4" height="47.2"><rect x="171" y="207.8" width="24.4" height="47.2" fill="url(#h177)"/></mask>
<linearGradient id="h179" gradientUnits="userSpaceOnUse" x1="193.4" y1="0" x2="214.8" y2="0"><stop offset="0" stop-color="#000"/><stop offset="1" stop-color="#fff"/></linearGradient>
<mask id="m180" maskUnits="userSpaceOnUse" x="192.4" y="207.8" width="24.4" height="47.2"><rect x="192.4" y="207.8" width="24.4" height="47.2" fill="url(#h179)"/></mask>
<linearGradient id="h181" gradientUnits="userSpaceOnUse" x1="214.8" y1="0" x2="236.2" y2="0"><stop offset="0" stop-color="#000"/><stop offset="1" stop-color="#fff"/></linearGradient>
<mask id="m182" maskUnits="userSpaceOnUse" x="213.8" y="207.8" width="24.4" height="47.2"><rect x="213.8" y="207.8" width="24.4" height="47.2" fill="url(#h181)"/></mask>
<linearGradient id="h183" gradientUnits="userSpaceOnUse" x1="236.2" y1="0" x2="257.6" y2="0"><stop offset="0" stop-color="#000"/><stop offset="1" stop-color="#fff"/></linearGradient>
<mask id="m184" maskUnits="userSpaceOnUse" x="235.2" y="207.8" width="24.4" height="47.2"><rect x="235.2" y="207.8" width="24.4" height="47.2" fill="url(#h183)"/></mask>
<clipPath id="c185"><polygon points="280,208 494.4,208 494.4,223 408.6,223 408.6,233.5 365.8,241.7 365.8,238.6 322.9,235.2 322.9,235.2 280,233"/></clipPath>
<linearGradient id="v186" gradientUnits="userSpaceOnUse" x1="0" y1="208" x2="0" y2="242.7"><stop offset="0" stop-color="#373737"/><stop offset="0.144" stop-color="#3b3b3b"/><stop offset="0.288" stop-color="#434343"/><stop offset="0.432" stop-color="#4b4b4b"/><stop offset="0.576" stop-color="#545454"/><stop offset="0.72" stop-color="#5e5e5e"/></linearGradient>
<linearGradient id="v187" gradientUnits="userSpaceOnUse" x1="0" y1="208" x2="0" y2="242.7"><stop offset="0" stop-color="#3d3d3d"/><stop offset="0.144" stop-color="#434343"/><stop offset="0.288" stop-color="#4b4b4b"/><stop offset="0.432" stop-color="#515151"/><stop offset="0.576" stop-color="#5a5a5a"/><stop offset="0.778" stop-color="#646464"/></linearGradient>
<linearGradient id="v188" gradientUnits="userSpaceOnUse" x1="0" y1="208" x2="0" y2="242.7"><stop offset="0" stop-color="#565656"/><stop offset="0.173" stop-color="#5a5a5a"/><stop offset="0.346" stop-color="#606060"/><stop offset="0.576" stop-color="#666666"/><stop offset="0.79" stop-color="#6c6c6c"/></linearGradient>
<linearGradient id="v189" gradientUnits="userSpaceOnUse" x1="0" y1="208" x2="0" y2="242.7"><stop offset="0" stop-color="#777777"/><stop offset="0.251" stop-color="#818181"/><stop offset="0.49" stop-color="#838383"/><stop offset="0.683" stop-color="#7b7b7b"/><stop offset="0.836" stop-color="#777777"/></linearGradient>
<linearGradient id="v190" gradientUnits="userSpaceOnUse" x1="0" y1="208" x2="0" y2="242.7"><stop offset="0" stop-color="#8f8f8f"/><stop offset="0.115" stop-color="#969696"/><stop offset="0.288" stop-color="#9e9e9e"/><stop offset="0.519" stop-color="#9e9e9e"/><stop offset="0.692" stop-color="#949494"/><stop offset="0.865" stop-color="#878787"/></linearGradient>
<linearGradient id="v191" gradientUnits="userSpaceOnUse" x1="0" y1="208" x2="0" y2="242.7"><stop offset="0" stop-color="#a8a8a8"/><stop offset="0.13" stop-color="#b5b5b5"/><stop offset="0.251" stop-color="#bdbdbd"/><stop offset="0.539" stop-color="#bdbdbd"/><stop offset="0.683" stop-color="#aeaeae"/><stop offset="0.801" stop-color="#9e9e9e"/><stop offset="0.893" stop-color="#8f8f8f"/><stop offset="0.971" stop-color="#8b8b8b"/></linearGradient>
<linearGradient id="v192" gradientUnits="userSpaceOnUse" x1="0" y1="208" x2="0" y2="242.7"><stop offset="0" stop-color="#b9b9b9"/><stop offset="0.144" stop-color="#c9c9c9"/><stop offset="0.346" stop-color="#d4d4d4"/><stop offset="0.49" stop-color="#d8d8d8"/><stop offset="0.634" stop-color="#c9c9c9"/><stop offset="0.72" stop-color="#b5b5b5"/><stop offset="0.793" stop-color="#9e9e9e"/><stop offset="0.893" stop-color="#8f8f8f"/></linearGradient>
<linearGradient id="v193" gradientUnits="userSpaceOnUse" x1="0" y1="208" x2="0" y2="242.7"><stop offset="0" stop-color="#bdbdbd"/><stop offset="0.144" stop-color="#d4d4d4"/><stop offset="0.288" stop-color="#e4e4e4"/><stop offset="0.441" stop-color="#efefef"/><stop offset="0.562" stop-color="#e2e2e2"/><stop offset="0.683" stop-color="#cdcdcd"/><stop offset="0.749" stop-color="#bdbdbd"/><stop offset="0.807" stop-color="#a8a8a8"/></linearGradient>
<linearGradient id="v194" gradientUnits="userSpaceOnUse" x1="0" y1="208" x2="0" y2="242.7"><stop offset="0" stop-color="#c1c1c1"/><stop offset="0.144" stop-color="#d4d4d4"/><stop offset="0.288" stop-color="#e8e8e8"/><stop offset="0.403" stop-color="#f9f9f9"/><stop offset="0.519" stop-color="#e4e4e4"/><stop offset="0.634" stop-color="#cdcdcd"/><stop offset="0.735" stop-color="#b5b5b5"/></linearGradient>
<linearGradient id="v195" gradientUnits="userSpaceOnUse" x1="0" y1="208" x2="0" y2="242.7"><stop offset="0" stop-color="#a8a8a8"/><stop offset="0.173" stop-color="#b1b1b1"/><stop offset="0.317" stop-color="#b5b5b5"/><stop offset="0.432" stop-color="#b1b1b1"/></linearGradient>
<linearGradient id="v196" gradientUnits="userSpaceOnUse" x1="0" y1="208" x2="0" y2="242.7"><stop offset="0" stop-color="#9e9e9e"/><stop offset="0.432" stop-color="#9e9e9e"/></linearGradient>
<linearGradient id="v197" gradientUnits="userSpaceOnUse" x1="0" y1="208" x2="0" y2="242.7"><stop offset="0" stop-color="#878787"/><stop offset="0.432" stop-color="#878787"/></linearGradient>
<linearGradient id="v198" gradientUnits="userSpaceOnUse" x1="0" y1="208" x2="0" y2="242.7"><stop offset="0" stop-color="#777777"/><stop offset="0.432" stop-color="#777777"/></linearGradient>
<linearGradient id="v199" gradientUnits="userSpaceOnUse" x1="0" y1="208" x2="0" y2="242.7"><stop offset="0" stop-color="#737373"/><stop offset="0.432" stop-color="#737373"/></linearGradient>
<linearGradient id="h200" gradientUnits="userSpaceOnUse" x1="280" y1="0" x2="321" y2="0"><stop offset="0" stop-color="#000"/><stop offset="1" stop-color="#fff"/></linearGradient>
<mask id="m201" maskUnits="userSpaceOnUse" x="279" y="207" width="44" height="36.7"><rect x="279" y="207" width="44" height="36.7" fill="url(#h200)"/></mask>
<linearGradient id="h202" gradientUnits="userSpaceOnUse" x1="321" y1="0" x2="326" y2="0"><stop offset="0" stop-color="#000"/><stop offset="1" stop-color="#fff"/></linearGradient>
<mask id="m203" maskUnits="userSpaceOnUse" x="320" y="207" width="8" height="36.7"><rect x="320" y="207" width="8" height="36.7" fill="url(#h202)"/></mask>
<linearGradient id="h204" gradientUnits="userSpaceOnUse" x1="326" y1="0" x2="344.5" y2="0"><stop offset="0" stop-color="#000"/><stop offset="1" stop-color="#fff"/></linearGradient>
<mask id="m205" maskUnits="userSpaceOnUse" x="325" y="207" width="21.5" height="36.7"><rect x="325" y="207" width="21.5" height="36.7" fill="url(#h204)"/></mask>
<linearGradient id="h206" gradientUnits="userSpaceOnUse" x1="344.5" y1="0" x2="354" y2="0"><stop offset="0" stop-color="#000"/><stop offset="1" stop-color="#fff"/></linearGradient>
<mask id="m207" maskUnits="userSpaceOnUse" x="343.5" y="207" width="12.5" height="36.7"><rect x="343.5" y="207" width="12.5" height="36.7" fill="url(#h206)"/></mask>
<linearGradient id="h208" gradientUnits="userSpaceOnUse" x1="354" y1="0" x2="365.8" y2="0"><stop offset="0" stop-color="#000"/><stop offset="1" stop-color="#fff"/></linearGradient>
<mask id="m209" maskUnits="userSpaceOnUse" x="353" y="207" width="14.8" height="36.7"><rect x="353" y="207" width="14.8" height="36.7" fill="url(#h208)"/></mask>
<linearGradient id="h210" gradientUnits="userSpaceOnUse" x1="365.8" y1="0" x2="380" y2="0"><stop offset="0" stop-color="#000"/><stop offset="1" stop-color="#fff"/></linearGradient>
<mask id="m211" maskUnits="userSpaceOnUse" x="364.8" y="207" width="17.2" height="36.7"><rect x="364.8" y="207" width="17.2" height="36.7" fill="url(#h210)"/></mask>
<linearGradient id="h212" gradientUnits="userSpaceOnUse" x1="380" y1="0" x2="395" y2="0"><stop offset="0" stop-color="#000"/><stop offset="1" stop-color="#fff"/></linearGradient>
<mask id="m213" maskUnits="userSpaceOnUse" x="379" y="207" width="18" height="36.7"><rect x="379" y="207" width="18" height="36.7" fill="url(#h212)"/></mask>
<linearGradient id="h214" gradientUnits="userSpaceOnUse" x1="395" y1="0" x2="408.6" y2="0"><stop offset="0" stop-color="#000"/><stop offset="1" stop-color="#fff"/></linearGradient>
<mask id="m215" maskUnits="userSpaceOnUse" x="394" y="207" width="16.6" height="36.7"><rect x="394" y="207" width="16.6" height="36.7" fill="url(#h214)"/></mask>
<linearGradient id="h216" gradientUnits="userSpaceOnUse" x1="408.6" y1="0" x2="430.1" y2="0"><stop offset="0" stop-color="#000"/><stop offset="1" stop-color="#fff"/></linearGradient>
<mask id="m217" maskUnits="userSpaceOnUse" x="407.6" y="207" width="24.5" height="36.7"><rect x="407.6" y="207" width="24.5" height="36.7" fill="url(#h216)"/></mask>
<linearGradient id="h218" gradientUnits="userSpaceOnUse" x1="430.1" y1="0" x2="437" y2="0"><stop offset="0" stop-color="#000"/><stop offset="1" stop-color="#fff"/></linearGradient>
<mask id="m219" maskUnits="userSpaceOnUse" x="429.1" y="207" width="9.9" height="36.7"><rect x="429.1" y="207" width="9.9" height="36.7" fill="url(#h218)"/></mask>
<linearGradient id="h220" gradientUnits="userSpaceOnUse" x1="437" y1="0" x2="451.6" y2="0"><stop offset="0" stop-color="#000"/><stop offset="1" stop-color="#fff"/></linearGradient>
<mask id="m221" maskUnits="userSpaceOnUse" x="436" y="207" width="17.6" height="36.7"><rect x="436" y="207" width="17.6" height="36.7" fill="url(#h220)"/></mask>
<linearGradient id="h222" gradientUnits="userSpaceOnUse" x1="451.6" y1="0" x2="473" y2="0"><stop offset="0" stop-color="#000"/><stop offset="1" stop-color="#fff"/></linearGradient>
<mask id="m223" maskUnits="userSpaceOnUse" x="450.6" y="207" width="24.4" height="36.7"><rect x="450.6" y="207" width="24.4" height="36.7" fill="url(#h222)"/></mask>
<linearGradient id="h224" gradientUnits="userSpaceOnUse" x1="473" y1="0" x2="494.4" y2="0"><stop offset="0" stop-color="#000"/><stop offset="1" stop-color="#fff"/></linearGradient>
<mask id="m225" maskUnits="userSpaceOnUse" x="472" y="207" width="24.4" height="36.7"><rect x="472" y="207" width="24.4" height="36.7" fill="url(#h224)"/></mask>
<linearGradient id="cbg" x1="0" y1="1" x2="0" y2="0"><stop offset="0" stop-color="#353535"/><stop offset="1" stop-color="#ffffff"/></linearGradient>
</defs>
<rect width="550" height="300" fill="#fff"/>
<!-- panel a -->
<g stroke="#cbcbcb" stroke-width="0.7" fill="none"><rect x="39.2" y="17.4" width="222.3" height="73.4"/><path d="M43.4 90.8v-2.2M43.4 17.4v2.2M86.2 90.8v-2.2M86.2 17.4v2.2M129.1 90.8v-2.2M129.1 17.4v2.2M172 90.8v-2.2M172 17.4v2.2M214.8 90.8v-2.2M214.8 17.4v2.2M257.6 90.8v-2.2M257.6 17.4v2.2M39.2 23.2h2.2M261.5 23.2h-2.2M39.2 36.7h2.2M261.5 36.7h-2.2M39.2 50.2h2.2M261.5 50.2h-2.2M39.2 63.7h2.2M261.5 63.7h-2.2M39.2 77.2h2.2M261.5 77.2h-2.2M39.2 90.7h2.2M261.5 90.7h-2.2"/></g>
<g clip-path="url(#c1)"><g filter="url(#jet)">
<rect x="42.9" y="27" width="44.3" height="54.6" fill="url(#v2)"/>
<rect x="42.9" y="27" width="44.3" height="54.6" fill="url(#v3)" mask="url(#m14)"/>
<rect x="86.2" y="27" width="44.4" height="54.6" fill="url(#v3)"/>
<rect x="86.2" y="27" width="44.4" height="54.6" fill="url(#v4)" mask="url(#m16)"/>
<rect x="129.1" y="27" width="13.4" height="54.6" fill="url(#v4)"/>
<rect x="129.1" y="27" width="13.4" height="54.6" fill="url(#v5)" mask="url(#m18)"/>
<rect x="141" y="27" width="17.5" height="54.6" fill="url(#v5)"/>
<rect x="141" y="27" width="17.5" height="54.6" fill="url(#v6)" mask="url(#m20)"/>
<rect x="157" y="27" width="9.5" height="54.6" fill="url(#v6)"/>
<rect x="157" y="27" width="9.5" height="54.6" fill="url(#v7)" mask="url(#m22)"/>
<rect x="165" y="27" width="8.5" height="54.6" fill="url(#v7)"/>
<rect x="165" y="27" width="8.5" height="54.6" fill="url(#v8)" mask="url(#m24)"/>
<rect x="172" y="27" width="22.9" height="54.6" fill="url(#v8)"/>
<rect x="172" y="27" width="22.9" height="54.6" fill="url(#v9)" mask="url(#m26)"/>
<rect x="193.4" y="27" width="22.9" height="54.6" fill="url(#v9)"/>
<rect x="193.4" y="27" width="22.9" height="54.6" fill="url(#v10)" mask="url(#m28)"/>
<rect x="214.8" y="27" width="22.9" height="54.6" fill="url(#v10)"/>
<rect x="214.8" y="27" width="22.9" height="54.6" fill="url(#v11)" mask="url(#m30)"/>
<rect x="236.2" y="27" width="22.9" height="54.6" fill="url(#v11)"/>
<rect x="236.2" y="27" width="22.9" height="54.6" fill="url(#v12)" mask="url(#m32)"/>
</g></g>
<polyline fill="none" stroke="#505050" stroke-width="0.95" stroke-linejoin="round" points="43.4,48.6 60,50 80,51.4 100,52.8 120,54.6 130,56.4 137,58 142,60.3 147,60.8 155,63.3 160,65.8 167,66.3 172,67 178,69.2 184,71.2 190,71.2 195,72.2 200,74.2 205,76.7 210,80 214,84 218,81.8 222,85.6 228,86 235,88.6 241,88.4 248.5,88"/><polyline fill="none" stroke="#2a2a2a" stroke-width="0.75" stroke-dasharray="2.3 2.15" points="43.4,21.3 190,21.1 200,20.5 207,20.1 213,19.7 218,20.3 225,20.7 234.6,21.1"/>
<!-- panel b -->
<g stroke="#cbcbcb" stroke-width="0.7" fill="none"><rect x="275.7" y="17.4" width="223.1" height="73.4"/><path d="M280 90.8v-2.2M280 17.4v2.2M322.9 90.8v-2.2M322.9 17.4v2.2M365.8 90.8v-2.2M365.8 17.4v2.2M408.6 90.8v-2.2M408.6 17.4v2.2M451.6 90.8v-2.2M451.6 17.4v2.2M494.4 90.8v-2.2M494.4 17.4v2.2M275.7 23.2h2.2M498.8 23.2h-2.2M275.7 36.7h2.2M498.8 36.7h-2.2M275.7 50.2h2.2M498.8 50.2h-2.2M275.7 63.7h2.2M498.8 63.7h-2.2M275.7 77.2h2.2M498.8 77.2h-2.2M275.7 90.7h2.2M498.8 90.7h-2.2"/></g>
<g clip-path="url(#c33)"><g filter="url(#jet)">
<rect x="279.5" y="26.5" width="44.4" height="42.9" fill="url(#v34)"/>
<rect x="279.5" y="26.5" width="44.4" height="42.9" fill="url(#v35)" mask="url(#m51)"/>
<rect x="322.9" y="26.5" width="9.6" height="42.9" fill="url(#v35)"/>
<rect x="322.9" y="26.5" width="9.6" height="42.9" fill="url(#v36)" mask="url(#m53)"/>
<rect x="331" y="26.5" width="15.5" height="42.9" fill="url(#v36)"/>
<rect x="331" y="26.5" width="15.5" height="42.9" fill="url(#v37)" mask="url(#m55)"/>
<rect x="345" y="26.5" width="22.3" height="42.9" fill="url(#v37)"/>
<rect x="345" y="26.5" width="22.3" height="42.9" fill="url(#v38)" mask="url(#m57)"/>
<rect x="365.8" y="26.5" width="15.7" height="42.9" fill="url(#v38)"/>
<rect x="365.8" y="26.5" width="15.7" height="42.9" fill="url(#v39)" mask="url(#m59)"/>
<rect x="380" y="26.5" width="9.5" height="42.9" fill="url(#v39)"/>
<rect x="380" y="26.5" width="9.5" height="42.9" fill="url(#v40)" mask="url(#m61)"/>
<rect x="388" y="26.5" width="11.5" height="42.9" fill="url(#v40)"/>
<rect x="388" y="26.5" width="11.5" height="42.9" fill="url(#v41)" mask="url(#m63)"/>
<rect x="398" y="26.5" width="12.1" height="42.9" fill="url(#v41)"/>
<rect x="398" y="26.5" width="12.1" height="42.9" fill="url(#v42)" mask="url(#m65)"/>
<rect x="408.6" y="26.5" width="8.9" height="42.9" fill="url(#v42)"/>
<rect x="408.6" y="26.5" width="8.9" height="42.9" fill="url(#v43)" mask="url(#m67)"/>
<rect x="416" y="26.5" width="15.6" height="42.9" fill="url(#v43)"/>
<rect x="416" y="26.5" width="15.6" height="42.9" fill="url(#v44)" mask="url(#m69)"/>
<rect x="430.1" y="26.5" width="23" height="42.9" fill="url(#v44)"/>
<rect x="430.1" y="26.5" width="23" height="42.9" fill="url(#v45)" mask="url(#m71)"/>
<rect x="451.6" y="26.5" width="11.9" height="42.9" fill="url(#v45)"/>
<rect x="451.6" y="26.5" width="11.9" height="42.9" fill="url(#v46)" mask="url(#m73)"/>
<rect x="462" y="26.5" width="12.5" height="42.9" fill="url(#v46)"/>
<rect x="462" y="26.5" width="12.5" height="42.9" fill="url(#v47)" mask="url(#m75)"/>
<rect x="473" y="26.5" width="11.5" height="42.9" fill="url(#v47)"/>
<rect x="473" y="26.5" width="11.5" height="42.9" fill="url(#v48)" mask="url(#m77)"/>
<rect x="483" y="26.5" width="12.9" height="42.9" fill="url(#v48)"/>
<rect x="483" y="26.5" width="12.9" height="42.9" fill="url(#v49)" mask="url(#m79)"/>
</g></g>
<polyline fill="none" stroke="#505050" stroke-width="0.95" stroke-linejoin="round" points="280,47.4 300,48 315,49 325,48.8 335,48.4 347,47.4 363,47.2 373,48 380,48.8 385,49.6 396,51.2 403,52.6 408.5,52 414,53.6 420,57 427,60 434,63 439,64 447,68 455,71 460,72 466,75.6 473,81 477,81.6 481,82 485.6,83.6"/><polyline fill="none" stroke="#2a2a2a" stroke-width="0.75" stroke-dasharray="2.3 2.15" points="284,19.8 475.6,19.8"/>
<!-- panel c -->
<g stroke="#cbcbcb" stroke-width="0.7" fill="none"><rect x="39.2" y="107.9" width="222.3" height="73.1"/><path d="M43.4 181v-2.2M43.4 107.9v2.2M86.2 181v-2.2M86.2 107.9v2.2M129.1 181v-2.2M129.1 107.9v2.2M172 181v-2.2M172 107.9v2.2M214.8 181v-2.2M214.8 107.9v2.2M257.6 181v-2.2M257.6 107.9v2.2M39.2 108.1h2.2M261.5 108.1h-2.2M39.2 122.7h2.2M261.5 122.7h-2.2M39.2 137.3h2.2M261.5 137.3h-2.2M39.2 151.8h2.2M261.5 151.8h-2.2M39.2 166.4h2.2M261.5 166.4h-2.2M39.2 181h2.2M261.5 181h-2.2"/></g>
<g clip-path="url(#c80)"><g filter="url(#jet)">
<rect x="42.9" y="118" width="14.1" height="48" fill="url(#v81)"/>
<rect x="42.9" y="118" width="14.1" height="48" fill="url(#v82)" mask="url(#m92)"/>
<rect x="56" y="118" width="31.7" height="48" fill="url(#v82)"/>
<rect x="56" y="118" width="31.7" height="48" fill="url(#v83)" mask="url(#m94)"/>
<rect x="86.2" y="118" width="44.4" height="48" fill="url(#v83)"/>
<rect x="86.2" y="118" width="44.4" height="48" fill="url(#v84)" mask="url(#m96)"/>
<rect x="129.1" y="118" width="22.9" height="48" fill="url(#v84)"/>
<rect x="129.1" y="118" width="22.9" height="48" fill="url(#v85)" mask="url(#m98)"/>
<rect x="150.5" y="118" width="23" height="48" fill="url(#v85)"/>
<rect x="150.5" y="118" width="23" height="48" fill="url(#v86)" mask="url(#m100)"/>
<rect x="172" y="118" width="22.9" height="48" fill="url(#v86)"/>
<rect x="172" y="118" width="22.9" height="48" fill="url(#v87)" mask="url(#m102)"/>
<rect x="193.4" y="118" width="22.9" height="48" fill="url(#v87)"/>
<rect x="193.4" y="118" width="22.9" height="48" fill="url(#v88)" mask="url(#m104)"/>
<rect x="214.8" y="118" width="22.9" height="48" fill="url(#v88)"/>
<rect x="214.8" y="118" width="22.9" height="48" fill="url(#v89)" mask="url(#m106)"/>
<rect x="236.2" y="118" width="22.9" height="48" fill="url(#v89)"/>
<rect x="236.2" y="118" width="22.9" height="48" fill="url(#v90)" mask="url(#m108)"/>
</g></g>
<polyline fill="none" stroke="#505050" stroke-width="0.95" stroke-linejoin="round" points="43.4,138.4 46,139.6 52,139.2 65,139 86,140 92,140.8 98,142 103,143.4 108,146 112,147.4 120,148.6 140,149 150,150 160,151.6 166,153 170,154.6 177,159 184,161 190,166 197,171 206,171.6 214,175.6 222,177.4 232,178 240,176 248.5,174"/><polyline fill="none" stroke="#2a2a2a" stroke-width="0.75" stroke-dasharray="2.3 2.15" points="43.4,111.3 195,111 205,110.6 213,110.1 220,110.6 234.7,110.9"/>
<!-- panel d -->
<g stroke="#cbcbcb" stroke-width="0.7" fill="none"><rect x="275.7" y="107.9" width="223.1" height="73.1"/><path d="M280 181v-2.2M280 107.9v2.2M322.9 181v-2.2M322.9 107.9v2.2M365.8 181v-2.2M365.8 107.9v2.2M408.6 181v-2.2M408.6 107.9v2.2M451.6 181v-2.2M451.6 107.9v2.2M494.4 181v-2.2M494.4 107.9v2.2M275.7 108.1h2.2M498.8 108.1h-2.2M275.7 122.7h2.2M498.8 122.7h-2.2M275.7 137.3h2.2M498.8 137.3h-2.2M275.7 151.8h2.2M498.8 151.8h-2.2M275.7 166.4h2.2M498.8 166.4h-2.2M275.7 181h2.2M498.8 181h-2.2"/></g>
<g clip-path="url(#c109)"><g filter="url(#jet)">
<rect x="279.5" y="117" width="44.4" height="31.8" fill="url(#v110)"/>
<rect x="279.5" y="117" width="44.4" height="31.8" fill="url(#v111)" mask="url(#m126)"/>
<rect x="322.9" y="117" width="28.6" height="31.8" fill="url(#v111)"/>
<rect x="322.9" y="117" width="28.6" height="31.8" fill="url(#v112)" mask="url(#m128)"/>
<rect x="350" y="117" width="17.3" height="31.8" fill="url(#v112)"/>
<rect x="350" y="117" width="17.3" height="31.8" fill="url(#v113)" mask="url(#m130)"/>
<rect x="365.8" y="117" width="14.3" height="31.8" fill="url(#v113)"/>
<rect x="365.8" y="117" width="14.3" height="31.8" fill="url(#v114)" mask="url(#m132)"/>
<rect x="378.6" y="117" width="10.1" height="31.8" fill="url(#v114)"/>
<rect x="378.6" y="117" width="10.1" height="31.8" fill="url(#v115)" mask="url(#m134)"/>
<rect x="387.2" y="117" width="12.3" height="31.8" fill="url(#v115)"/>
<rect x="387.2" y="117" width="12.3" height="31.8" fill="url(#v116)" mask="url(#m136)"/>
<rect x="398" y="117" width="12.1" height="31.8" fill="url(#v116)"/>
<rect x="398" y="117" width="12.1" height="31.8" fill="url(#v117)" mask="url(#m138)"/>
<rect x="408.6" y="117" width="11.9" height="31.8" fill="url(#v117)"/>
<rect x="408.6" y="117" width="11.9" height="31.8" fill="url(#v118)" mask="url(#m140)"/>
<rect x="419" y="117" width="12.6" height="31.8" fill="url(#v118)"/>
<rect x="419" y="117" width="12.6" height="31.8" fill="url(#v119)" mask="url(#m142)"/>
<rect x="430.1" y="117" width="12.4" height="31.8" fill="url(#v119)"/>
<rect x="430.1" y="117" width="12.4" height="31.8" fill="url(#v120)" mask="url(#m144)"/>
<rect x="441" y="117" width="12.1" height="31.8" fill="url(#v120)"/>
<rect x="441" y="117" width="12.1" height="31.8" fill="url(#v121)" mask="url(#m146)"/>
<rect x="451.6" y="117" width="11.9" height="31.8" fill="url(#v121)"/>
<rect x="451.6" y="117" width="11.9" height="31.8" fill="url(#v122)" mask="url(#m148)"/>
<rect x="462" y="117" width="12.5" height="31.8" fill="url(#v122)"/>
<rect x="462" y="117" width="12.5" height="31.8" fill="url(#v123)" mask="url(#m150)"/>
<rect x="473" y="117" width="22.9" height="31.8" fill="url(#v123)"/>
<rect x="473" y="117" width="22.9" height="31.8" fill="url(#v124)" mask="url(#m152)"/>
</g></g>
<polyline fill="none" stroke="#505050" stroke-width="0.95" stroke-linejoin="round" points="280,139.4 290,139 305,140 320,140 340,140.6 350,141 360,142 366,143.6 372,145 380,144.4 388,143 395,143 405,142 412,142.4 420,143 430,144.2 436,148 442,152.2 447,154.4 451,154.6 456,160.4 460,160 464,163 469,168.4 474,167.6 478,169 482,171.4 485.6,172"/><polyline fill="none" stroke="#2a2a2a" stroke-width="0.75" stroke-dasharray="2.3 2.15" points="284,109.9 475.6,109.9"/>
<!-- panel e -->
<g stroke="#cbcbcb" stroke-width="0.7" fill="none"><rect x="39.2" y="194.1" width="222.3" height="73.2"/><path d="M43.4 267.3v-2.2M43.4 194.1v2.2M86.2 267.3v-2.2M86.2 194.1v2.2M129.1 267.3v-2.2M129.1 194.1v2.2M172 267.3v-2.2M172 194.1v2.2M214.8 267.3v-2.2M214.8 194.1v2.2M257.6 267.3v-2.2M257.6 194.1v2.2M39.2 209.3h2.2M261.5 209.3h-2.2M39.2 228.6h2.2M261.5 228.6h-2.2M39.2 248h2.2M261.5 248h-2.2M39.2 267.3h2.2M261.5 267.3h-2.2"/></g>
<g clip-path="url(#c153)"><g filter="url(#jet)">
<rect x="42.9" y="207.8" width="23.1" height="47.2" fill="url(#v154)"/>
<rect x="42.9" y="207.8" width="23.1" height="47.2" fill="url(#v155)" mask="url(#m166)"/>
<rect x="65" y="207.8" width="22.7" height="47.2" fill="url(#v155)"/>
<rect x="65" y="207.8" width="22.7" height="47.2" fill="url(#v156)" mask="url(#m168)"/>
<rect x="86.2" y="207.8" width="23.3" height="47.2" fill="url(#v156)"/>
<rect x="86.2" y="207.8" width="23.3" height="47.2" fill="url(#v157)" mask="url(#m170)"/>
<rect x="108" y="207.8" width="22.6" height="47.2" fill="url(#v157)"/>
<rect x="108" y="207.8" width="22.6" height="47.2" fill="url(#v158)" mask="url(#m172)"/>
<rect x="129.1" y="207.8" width="22.9" height="47.2" fill="url(#v158)"/>
<rect x="129.1" y="207.8" width="22.9" height="47.2" fill="url(#v159)" mask="url(#m174)"/>
<rect x="150.5" y="207.8" width="23" height="47.2" fill="url(#v159)"/>
<rect x="150.5" y="207.8" width="23" height="47.2" fill="url(#v160)" mask="url(#m176)"/>
<rect x="172" y="207.8" width="22.9" height="47.2" fill="url(#v160)"/>
<rect x="172" y="207.8" width="22.9" height="47.2" fill="url(#v161)" mask="url(#m178)"/>
<rect x="193.4" y="207.8" width="22.9" height="47.2" fill="url(#v161)"/>
<rect x="193.4" y="207.8" width="22.9" height="47.2" fill="url(#v162)" mask="url(#m180)"/>
<rect x="214.8" y="207.8" width="22.9" height="47.2" fill="url(#v162)"/>
<rect x="214.8" y="207.8" width="22.9" height="47.2" fill="url(#v163)" mask="url(#m182)"/>
<rect x="236.2" y="207.8" width="22.9" height="47.2" fill="url(#v163)"/>
<rect x="236.2" y="207.8" width="22.9" height="47.2" fill="url(#v164)" mask="url(#m184)"/>
</g></g>
<polyline fill="none" stroke="#505050" stroke-width="0.95" stroke-linejoin="round" points="43.4,233.8 55,233.6 65.5,234.4 80,236 91,237.7 100,238.5 111,239.5 125,239 131.6,238.7 138,240.2 152,240.2 160,241.6 167,243.3 171,245 176,247.6 184,254.4 191,254.6 197,259 200,259.6 206,261 210,262 214,264.4 224,265.6 230,267 236,267.4 242,266 248.5,264.4"/><polyline fill="none" stroke="#2a2a2a" stroke-width="0.75" stroke-dasharray="2.3 2.15" points="43.4,199.4 110,199.5 140,199.7 170,199.3 195,199.1 205,198.8 213,198.4 220,198.9 234.7,199.1"/>
<!-- panel f -->
<g stroke="#cbcbcb" stroke-width="0.7" fill="none"><rect x="275.7" y="194.1" width="223.1" height="73.2"/><path d="M280 267.3v-2.2M280 194.1v2.2M322.9 267.3v-2.2M322.9 194.1v2.2M365.8 267.3v-2.2M365.8 194.1v2.2M408.6 267.3v-2.2M408.6 194.1v2.2M451.6 267.3v-2.2M451.6 194.1v2.2M494.4 267.3v-2.2M494.4 194.1v2.2M275.7 209.3h2.2M498.8 209.3h-2.2M275.7 228.6h2.2M498.8 228.6h-2.2M275.7 248h2.2M498.8 248h-2.2M275.7 267.3h2.2M498.8 267.3h-2.2"/></g>
<g clip-path="url(#c185)"><g filter="url(#jet)">
<rect x="279.5" y="207" width="42.5" height="36.7" fill="url(#v186)"/>
<rect x="279.5" y="207" width="42.5" height="36.7" fill="url(#v187)" mask="url(#m201)"/>
<rect x="321" y="207" width="6.5" height="36.7" fill="url(#v187)"/>
<rect x="321" y="207" width="6.5" height="36.7" fill="url(#v188)" mask="url(#m203)"/>
<rect x="326" y="207" width="20" height="36.7" fill="url(#v188)"/>
<rect x="326" y="207" width="20" height="36.7" fill="url(#v189)" mask="url(#m205)"/>
<rect x="344.5" y="207" width="11" height="36.7" fill="url(#v189)"/>
<rect x="344.5" y="207" width="11" height="36.7" fill="url(#v190)" mask="url(#m207)"/>
<rect x="354" y="207" width="13.3" height="36.7" fill="url(#v190)"/>
<rect x="354" y="207" width="13.3" height="36.7" fill="url(#v191)" mask="url(#m209)"/>
<rect x="365.8" y="207" width="15.7" height="36.7" fill="url(#v191)"/>
<rect x="365.8" y="207" width="15.7" height="36.7" fill="url(#v192)" mask="url(#m211)"/>
<rect x="380" y="207" width="16.5" height="36.7" fill="url(#v192)"/>
<rect x="380" y="207" width="16.5" height="36.7" fill="url(#v193)" mask="url(#m213)"/>
<rect x="395" y="207" width="15.1" height="36.7" fill="url(#v193)"/>
<rect x="395" y="207" width="15.1" height="36.7" fill="url(#v194)" mask="url(#m215)"/>
<rect x="408.6" y="207" width="23" height="36.7" fill="url(#v194)"/>
<rect x="408.6" y="207" width="23" height="36.7" fill="url(#v195)" mask="url(#m217)"/>
<rect x="430.1" y="207" width="8.4" height="36.7" fill="url(#v195)"/>
<rect x="430.1" y="207" width="8.4" height="36.7" fill="url(#v196)" mask="url(#m219)"/>
<rect x="437" y="207" width="16.1" height="36.7" fill="url(#v196)"/>
<rect x="437" y="207" width="16.1" height="36.7" fill="url(#v197)" mask="url(#m221)"/>
<rect x="451.6" y="207" width="22.9" height="36.7" fill="url(#v197)"/>
<rect x="451.6" y="207" width="22.9" height="36.7" fill="url(#v198)" mask="url(#m223)"/>
<rect x="473" y="207" width="22.9" height="36.7" fill="url(#v198)"/>
<rect x="473" y="207" width="22.9" height="36.7" fill="url(#v199)" mask="url(#m225)"/>
</g></g>
<polyline fill="none" stroke="#505050" stroke-width="0.95" stroke-linejoin="round" points="280,236 295,237 310,238.7 323,240 337,242 348,244.7 357,246.3 365,246.3 373,243.7 383,240 387.5,239.7 390,237.5 395,235.8 400,235.5 405,234.4 408,232 411,228 415,226.6 422,226.4 430,225.4 438,226.4 444,227.4 450,228 456,229.6 461,232.4 466,233 471,235 476,236 481,238.6 485.6,239"/><polyline fill="none" stroke="#2a2a2a" stroke-width="0.75" stroke-dasharray="2.3 2.15" points="284,197.6 475.6,197.6"/>
<g filter="url(#jet)"><rect x="509.3" y="20.9" width="11.3" height="64.6" fill="url(#cbg)"/></g>
<text transform="translate(36.1 27.7) rotate(.03) scale(1 1.23)" font-size="8.4" text-anchor="end" font-weight="normal" fill="#2e2e2e">0.09</text>
<text transform="translate(36.1 41.2) rotate(.03) scale(1 1.23)" font-size="8.4" text-anchor="end" font-weight="normal" fill="#2e2e2e">0.04</text>
<text transform="translate(36.1 54.7) rotate(.03) scale(1 1.23)" font-size="8.4" text-anchor="end" font-weight="normal" fill="#2e2e2e">-0.01</text>
<text transform="translate(36.1 68.2) rotate(.03) scale(1 1.23)" font-size="8.4" text-anchor="end" font-weight="normal" fill="#2e2e2e">-0.06</text>
<text transform="translate(36.1 81.7) rotate(.03) scale(1 1.23)" font-size="8.4" text-anchor="end" font-weight="normal" fill="#2e2e2e">-0.11</text>
<text transform="translate(36.1 95.2) rotate(.03) scale(1 1.23)" font-size="8.4" text-anchor="end" font-weight="normal" fill="#2e2e2e">-0.16</text>
<text transform="translate(12.7 54.4) rotate(-90) scale(1.2 1)" font-size="9" text-anchor="middle" font-weight="normal" fill="#2e2e2e">z (m)</text>
<text transform="translate(36.1 112.6) rotate(.03) scale(1 1.23)" font-size="8.4" text-anchor="end" font-weight="normal" fill="#2e2e2e">0.11</text>
<text transform="translate(36.1 127.2) rotate(.03) scale(1 1.23)" font-size="8.4" text-anchor="end" font-weight="normal" fill="#2e2e2e">0.06</text>
<text transform="translate(36.1 141.8) rotate(.03) scale(1 1.23)" font-size="8.4" text-anchor="end" font-weight="normal" fill="#2e2e2e">0.01</text>
<text transform="translate(36.1 156.3) rotate(.03) scale(1 1.23)" font-size="8.4" text-anchor="end" font-weight="normal" fill="#2e2e2e">-0.04</text>
<text transform="translate(36.1 170.9) rotate(.03) scale(1 1.23)" font-size="8.4" text-anchor="end" font-weight="normal" fill="#2e2e2e">-0.09</text>
<text transform="translate(36.1 185.5) rotate(.03) scale(1 1.23)" font-size="8.4" text-anchor="end" font-weight="normal" fill="#2e2e2e">-0.14</text>
<text transform="translate(12.7 144.75) rotate(-90) scale(1.2 1)" font-size="9" text-anchor="middle" font-weight="normal" fill="#2e2e2e">z (m)</text>
<text transform="translate(36.1 213.8) rotate(.03) scale(1 1.23)" font-size="8.4" text-anchor="end" font-weight="normal" fill="#2e2e2e">0.07</text>
<text transform="translate(36.1 233.1) rotate(.03) scale(1 1.23)" font-size="8.4" text-anchor="end" font-weight="normal" fill="#2e2e2e">0.02</text>
<text transform="translate(36.1 252.5) rotate(.03) scale(1 1.23)" font-size="8.4" text-anchor="end" font-weight="normal" fill="#2e2e2e">-0.03</text>
<text transform="translate(36.1 271.8) rotate(.03) scale(1 1.23)" font-size="8.4" text-anchor="end" font-weight="normal" fill="#2e2e2e">-0.08</text>
<text transform="translate(12.7 231) rotate(-90) scale(1.2 1)" font-size="9" text-anchor="middle" font-weight="normal" fill="#2e2e2e">z (m)</text>
<text transform="translate(43.4 281.3) rotate(.03) scale(1 1.23)" font-size="8.4" text-anchor="middle" font-weight="normal" fill="#2e2e2e">0.16</text>
<text transform="translate(86.2 281.3) rotate(.03) scale(1 1.23)" font-size="8.4" text-anchor="middle" font-weight="normal" fill="#2e2e2e">0.26</text>
<text transform="translate(129.1 281.3) rotate(.03) scale(1 1.23)" font-size="8.4" text-anchor="middle" font-weight="normal" fill="#2e2e2e">0.36</text>
<text transform="translate(172 281.3) rotate(.03) scale(1 1.23)" font-size="8.4" text-anchor="middle" font-weight="normal" fill="#2e2e2e">0.46</text>
<text transform="translate(214.8 281.3) rotate(.03) scale(1 1.23)" font-size="8.4" text-anchor="middle" font-weight="normal" fill="#2e2e2e">0.56</text>
<text transform="translate(257.6 281.3) rotate(.03) scale(1 1.23)" font-size="8.4" text-anchor="middle" font-weight="normal" fill="#2e2e2e">0.66</text>
<text transform="translate(280 281.3) rotate(.03) scale(1 1.23)" font-size="8.4" text-anchor="middle" font-weight="normal" fill="#2e2e2e">0.16</text>
<text transform="translate(322.9 281.3) rotate(.03) scale(1 1.23)" font-size="8.4" text-anchor="middle" font-weight="normal" fill="#2e2e2e">0.26</text>
<text transform="translate(365.8 281.3) rotate(.03) scale(1 1.23)" font-size="8.4" text-anchor="middle" font-weight="normal" fill="#2e2e2e">0.36</text>
<text transform="translate(408.6 281.3) rotate(.03) scale(1 1.23)" font-size="8.4" text-anchor="middle" font-weight="normal" fill="#2e2e2e">0.46</text>
<text transform="translate(451.6 281.3) rotate(.03) scale(1 1.23)" font-size="8.4" text-anchor="middle" font-weight="normal" fill="#2e2e2e">0.56</text>
<text transform="translate(494.4 281.3) rotate(.03) scale(1 1.23)" font-size="8.4" text-anchor="middle" font-weight="normal" fill="#2e2e2e">0.66</text>
<text transform="translate(150.3 293.8) rotate(.03) scale(1 1.2)" font-size="9" text-anchor="middle" font-weight="normal" fill="#2e2e2e">y (m)</text>
<text transform="translate(387 293.8) rotate(.03) scale(1 1.2)" font-size="9" text-anchor="middle" font-weight="normal" fill="#2e2e2e">y (m)</text>
<text transform="translate(150.4 11.6) rotate(.03) scale(1 1.17)" font-size="8.6" text-anchor="middle" font-weight="bold" fill="#1a1a1a">Without Vanes</text>
<text transform="translate(387 11.6) rotate(.03) scale(1 1.17)" font-size="8.6" text-anchor="middle" font-weight="bold" fill="#1a1a1a">With Vanes</text>
<text transform="translate(260.7 25.3) rotate(.03) scale(1 1.05)" font-size="8.6" text-anchor="end" font-weight="bold" fill="#1a1a1a">a)</text>
<text transform="translate(498.2 24.9) rotate(.03) scale(1 1.05)" font-size="8.6" text-anchor="end" font-weight="bold" fill="#1a1a1a">b)</text>
<text transform="translate(260.7 115.6) rotate(.03) scale(1 1.05)" font-size="8.6" text-anchor="end" font-weight="bold" fill="#1a1a1a">c)</text>
<text transform="translate(498.2 115.3) rotate(.03) scale(1 1.05)" font-size="8.6" text-anchor="end" font-weight="bold" fill="#1a1a1a">d)</text>
<text transform="translate(260.7 204) rotate(.03) scale(1 1.05)" font-size="8.6" text-anchor="end" font-weight="bold" fill="#1a1a1a">e)</text>
<text transform="translate(496.3 202.7) rotate(.03) scale(1 1.05)" font-size="8.6" text-anchor="end" font-weight="bold" fill="#1a1a1a">f)</text>
<text transform="translate(523.6 25) rotate(.03) scale(1 1.14)" font-size="8.1" text-anchor="start" font-weight="normal" fill="#2e2e2e">0.010</text>
<text transform="translate(523.6 46.3) rotate(.03) scale(1 1.14)" font-size="8.1" text-anchor="start" font-weight="normal" fill="#2e2e2e">0.007</text>
<text transform="translate(523.6 67.7) rotate(.03) scale(1 1.14)" font-size="8.1" text-anchor="start" font-weight="normal" fill="#2e2e2e">0.004</text>
<text transform="translate(523.6 88.9) rotate(.03) scale(1 1.14)" font-size="8.1" text-anchor="start" font-weight="normal" fill="#2e2e2e">0.001</text>
<text transform="translate(501.3 13.4) rotate(.03) scale(1 1.02)" font-size="8.2" fill="#2e2e2e">k (m<tspan dy="-4" font-size="6.8">2</tspan><tspan dy="4">s</tspan><tspan dy="-4" font-size="6.8">-2</tspan><tspan dy="4">)</tspan></text>
</svg>
</body></html>
